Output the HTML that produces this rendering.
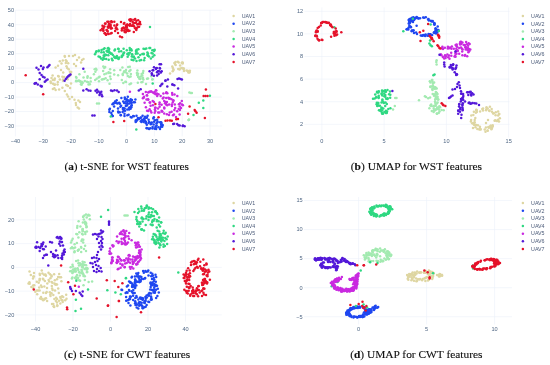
<!DOCTYPE html>
<html><head><meta charset="utf-8"><style>
html,body{margin:0;padding:0;background:#fff;width:550px;height:365px;overflow:hidden}
svg{display:block}
.g{stroke:#ebf0f8;stroke-width:0.6}
.t{font-family:"Liberation Sans",sans-serif;font-size:5.6px;fill:#506784}
.lg{font-family:"Liberation Sans",sans-serif;font-size:5.3px;fill:#4a5a78}
.c{font-family:"Liberation Serif",serif;font-size:11.2px;fill:#111;stroke:#111;stroke-width:0.12px}
</style></head><body>
<svg width="550" height="365" viewBox="0 0 550 365">
<rect width="550" height="365" fill="#fff"/>
<line x1="15.40" y1="10.2" x2="15.40" y2="136.3" class="g"/><line x1="43.20" y1="10.2" x2="43.20" y2="136.3" class="g"/><line x1="71.00" y1="10.2" x2="71.00" y2="136.3" class="g"/><line x1="98.80" y1="10.2" x2="98.80" y2="136.3" class="g"/><line x1="126.60" y1="10.2" x2="126.60" y2="136.3" class="g"/><line x1="154.40" y1="10.2" x2="154.40" y2="136.3" class="g"/><line x1="182.20" y1="10.2" x2="182.20" y2="136.3" class="g"/><line x1="210.00" y1="10.2" x2="210.00" y2="136.3" class="g"/><line x1="15.3" y1="126.01" x2="222" y2="126.01" class="g"/><line x1="15.3" y1="111.54" x2="222" y2="111.54" class="g"/><line x1="15.3" y1="97.07" x2="222" y2="97.07" class="g"/><line x1="15.3" y1="82.60" x2="222" y2="82.60" class="g"/><line x1="15.3" y1="68.13" x2="222" y2="68.13" class="g"/><line x1="15.3" y1="53.66" x2="222" y2="53.66" class="g"/><line x1="15.3" y1="39.19" x2="222" y2="39.19" class="g"/><line x1="15.3" y1="24.72" x2="222" y2="24.72" class="g"/><line x1="15.3" y1="10.25" x2="222" y2="10.25" class="g"/><line x1="321.90" y1="7.5" x2="321.90" y2="137.5" class="g"/><line x1="384.15" y1="7.5" x2="384.15" y2="137.5" class="g"/><line x1="446.40" y1="7.5" x2="446.40" y2="137.5" class="g"/><line x1="508.65" y1="7.5" x2="508.65" y2="137.5" class="g"/><line x1="304.5" y1="124.30" x2="509.5" y2="124.30" class="g"/><line x1="304.5" y1="101.70" x2="509.5" y2="101.70" class="g"/><line x1="304.5" y1="79.10" x2="509.5" y2="79.10" class="g"/><line x1="304.5" y1="56.50" x2="509.5" y2="56.50" class="g"/><line x1="304.5" y1="33.90" x2="509.5" y2="33.90" class="g"/><line x1="304.5" y1="11.30" x2="509.5" y2="11.30" class="g"/><line x1="35.50" y1="197" x2="35.50" y2="321.5" class="g"/><line x1="73.00" y1="197" x2="73.00" y2="321.5" class="g"/><line x1="110.50" y1="197" x2="110.50" y2="321.5" class="g"/><line x1="148.00" y1="197" x2="148.00" y2="321.5" class="g"/><line x1="185.50" y1="197" x2="185.50" y2="321.5" class="g"/><line x1="15.6" y1="314.90" x2="221.7" y2="314.90" class="g"/><line x1="15.6" y1="291.15" x2="221.7" y2="291.15" class="g"/><line x1="15.6" y1="267.40" x2="221.7" y2="267.40" class="g"/><line x1="15.6" y1="243.65" x2="221.7" y2="243.65" class="g"/><line x1="15.6" y1="219.90" x2="221.7" y2="219.90" class="g"/><line x1="358.60" y1="197" x2="358.60" y2="324.5" class="g"/><line x1="426.60" y1="197" x2="426.60" y2="324.5" class="g"/><line x1="494.60" y1="197" x2="494.60" y2="324.5" class="g"/><line x1="304" y1="316.75" x2="512" y2="316.75" class="g"/><line x1="304" y1="287.70" x2="512" y2="287.70" class="g"/><line x1="304" y1="258.65" x2="512" y2="258.65" class="g"/><line x1="304" y1="229.60" x2="512" y2="229.60" class="g"/><line x1="304" y1="200.55" x2="512" y2="200.55" class="g"/><text x="15.40" y="143.00" text-anchor="middle" class="t">−40</text><text x="43.20" y="143.00" text-anchor="middle" class="t">−30</text><text x="71.00" y="143.00" text-anchor="middle" class="t">−20</text><text x="98.80" y="143.00" text-anchor="middle" class="t">−10</text><text x="126.60" y="143.00" text-anchor="middle" class="t">0</text><text x="154.40" y="143.00" text-anchor="middle" class="t">10</text><text x="182.20" y="143.00" text-anchor="middle" class="t">20</text><text x="210.00" y="143.00" text-anchor="middle" class="t">30</text><text x="14.00" y="127.81" text-anchor="end" class="t">−30</text><text x="14.00" y="113.34" text-anchor="end" class="t">−20</text><text x="14.00" y="98.87" text-anchor="end" class="t">−10</text><text x="14.00" y="84.40" text-anchor="end" class="t">0</text><text x="14.00" y="69.93" text-anchor="end" class="t">10</text><text x="14.00" y="55.46" text-anchor="end" class="t">20</text><text x="14.00" y="40.99" text-anchor="end" class="t">30</text><text x="14.00" y="26.52" text-anchor="end" class="t">40</text><text x="14.00" y="12.05" text-anchor="end" class="t">50</text><circle cx="233.6" cy="16.00" r="1.25" fill="#ded6a2"/><text x="241.80" y="17.75" class="lg">UAV1</text><circle cx="233.6" cy="23.65" r="1.25" fill="#1f47f0"/><text x="241.80" y="25.40" class="lg">UAV2</text><circle cx="233.6" cy="31.30" r="1.25" fill="#a3eab1"/><text x="241.80" y="33.05" class="lg">UAV3</text><circle cx="233.6" cy="38.95" r="1.25" fill="#2fd882"/><text x="241.80" y="40.70" class="lg">UAV4</text><circle cx="233.6" cy="46.60" r="1.25" fill="#c92ae0"/><text x="241.80" y="48.35" class="lg">UAV5</text><circle cx="233.6" cy="54.25" r="1.25" fill="#5318d8"/><text x="241.80" y="56.00" class="lg">UAV6</text><circle cx="233.6" cy="61.90" r="1.25" fill="#e5122a"/><text x="241.80" y="63.65" class="lg">UAV7</text><text x="321.90" y="143.00" text-anchor="middle" class="t">0</text><text x="384.15" y="143.00" text-anchor="middle" class="t">5</text><text x="446.40" y="143.00" text-anchor="middle" class="t">10</text><text x="508.65" y="143.00" text-anchor="middle" class="t">15</text><text x="303.20" y="126.10" text-anchor="end" class="t">2</text><text x="303.20" y="103.50" text-anchor="end" class="t">4</text><text x="303.20" y="80.90" text-anchor="end" class="t">6</text><text x="303.20" y="58.30" text-anchor="end" class="t">8</text><text x="303.20" y="35.70" text-anchor="end" class="t">10</text><text x="303.20" y="13.10" text-anchor="end" class="t">12</text><circle cx="522.9" cy="16.10" r="1.25" fill="#ded6a2"/><text x="531.10" y="17.85" class="lg">UAV1</text><circle cx="522.9" cy="23.75" r="1.25" fill="#1f47f0"/><text x="531.10" y="25.50" class="lg">UAV2</text><circle cx="522.9" cy="31.40" r="1.25" fill="#a3eab1"/><text x="531.10" y="33.15" class="lg">UAV3</text><circle cx="522.9" cy="39.05" r="1.25" fill="#2fd882"/><text x="531.10" y="40.80" class="lg">UAV4</text><circle cx="522.9" cy="46.70" r="1.25" fill="#c92ae0"/><text x="531.10" y="48.45" class="lg">UAV5</text><circle cx="522.9" cy="54.35" r="1.25" fill="#5318d8"/><text x="531.10" y="56.10" class="lg">UAV6</text><circle cx="522.9" cy="62.00" r="1.25" fill="#e5122a"/><text x="531.10" y="63.75" class="lg">UAV7</text><text x="35.50" y="331.00" text-anchor="middle" class="t">−40</text><text x="73.00" y="331.00" text-anchor="middle" class="t">−20</text><text x="110.50" y="331.00" text-anchor="middle" class="t">0</text><text x="148.00" y="331.00" text-anchor="middle" class="t">20</text><text x="185.50" y="331.00" text-anchor="middle" class="t">40</text><text x="14.30" y="316.70" text-anchor="end" class="t">−20</text><text x="14.30" y="292.95" text-anchor="end" class="t">−10</text><text x="14.30" y="269.20" text-anchor="end" class="t">0</text><text x="14.30" y="245.45" text-anchor="end" class="t">10</text><text x="14.30" y="221.70" text-anchor="end" class="t">20</text><circle cx="233.6" cy="203.10" r="1.25" fill="#ded6a2"/><text x="241.80" y="204.85" class="lg">UAV1</text><circle cx="233.6" cy="210.75" r="1.25" fill="#1f47f0"/><text x="241.80" y="212.50" class="lg">UAV2</text><circle cx="233.6" cy="218.40" r="1.25" fill="#a3eab1"/><text x="241.80" y="220.15" class="lg">UAV3</text><circle cx="233.6" cy="226.05" r="1.25" fill="#2fd882"/><text x="241.80" y="227.80" class="lg">UAV4</text><circle cx="233.6" cy="233.70" r="1.25" fill="#c92ae0"/><text x="241.80" y="235.45" class="lg">UAV5</text><circle cx="233.6" cy="241.35" r="1.25" fill="#5318d8"/><text x="241.80" y="243.10" class="lg">UAV6</text><circle cx="233.6" cy="249.00" r="1.25" fill="#e5122a"/><text x="241.80" y="250.75" class="lg">UAV7</text><text x="358.60" y="331.00" text-anchor="middle" class="t">0</text><text x="426.60" y="331.00" text-anchor="middle" class="t">5</text><text x="494.60" y="331.00" text-anchor="middle" class="t">10</text><text x="302.70" y="318.55" text-anchor="end" class="t">−5</text><text x="302.70" y="289.50" text-anchor="end" class="t">0</text><text x="302.70" y="260.45" text-anchor="end" class="t">5</text><text x="302.70" y="231.40" text-anchor="end" class="t">10</text><text x="302.70" y="202.35" text-anchor="end" class="t">15</text><circle cx="522.9" cy="203.10" r="1.25" fill="#ded6a2"/><text x="531.10" y="204.85" class="lg">UAV1</text><circle cx="522.9" cy="210.75" r="1.25" fill="#1f47f0"/><text x="531.10" y="212.50" class="lg">UAV2</text><circle cx="522.9" cy="218.40" r="1.25" fill="#a3eab1"/><text x="531.10" y="220.15" class="lg">UAV3</text><circle cx="522.9" cy="226.05" r="1.25" fill="#2fd882"/><text x="531.10" y="227.80" class="lg">UAV4</text><circle cx="522.9" cy="233.70" r="1.25" fill="#c92ae0"/><text x="531.10" y="235.45" class="lg">UAV5</text><circle cx="522.9" cy="241.35" r="1.25" fill="#5318d8"/><text x="531.10" y="243.10" class="lg">UAV6</text><circle cx="522.9" cy="249.00" r="1.25" fill="#e5122a"/><text x="531.10" y="250.75" class="lg">UAV7</text><g fill="#ded6a2"><circle cx="64.8" cy="91.1" r="1.25"/><circle cx="67.6" cy="79.2" r="1.25"/><circle cx="54.5" cy="80.0" r="1.25"/><circle cx="64.2" cy="77.0" r="1.25"/><circle cx="54.3" cy="88.2" r="1.25"/><circle cx="66.5" cy="66.2" r="1.25"/><circle cx="68.0" cy="85.9" r="1.25"/><circle cx="52.9" cy="88.9" r="1.25"/><circle cx="50.6" cy="81.5" r="1.25"/><circle cx="69.2" cy="76.3" r="1.25"/><circle cx="53.0" cy="83.8" r="1.25"/><circle cx="57.6" cy="84.4" r="1.25"/><circle cx="66.2" cy="85.0" r="1.25"/><circle cx="70.1" cy="88.0" r="1.25"/><circle cx="62.4" cy="87.7" r="1.25"/><circle cx="70.8" cy="74.4" r="1.25"/><circle cx="50.9" cy="82.9" r="1.25"/><circle cx="58.0" cy="65.7" r="1.25"/><circle cx="61.5" cy="63.4" r="1.25"/><circle cx="52.9" cy="79.9" r="1.25"/><circle cx="65.8" cy="60.3" r="1.25"/><circle cx="62.4" cy="76.7" r="1.25"/><circle cx="54.4" cy="84.7" r="1.25"/><circle cx="55.6" cy="90.0" r="1.25"/><circle cx="71.2" cy="72.0" r="1.25"/><circle cx="63.0" cy="79.5" r="1.25"/><circle cx="51.5" cy="77.9" r="1.25"/><circle cx="58.8" cy="76.6" r="1.25"/><circle cx="63.2" cy="72.6" r="1.25"/><circle cx="55.6" cy="67.4" r="1.25"/><circle cx="64.7" cy="56.1" r="1.25"/><circle cx="59.8" cy="61.3" r="1.25"/><circle cx="58.1" cy="76.1" r="1.25"/><circle cx="54.8" cy="78.5" r="1.25"/><circle cx="69.0" cy="55.9" r="1.25"/><circle cx="61.0" cy="70.0" r="1.25"/><circle cx="69.9" cy="71.7" r="1.25"/><circle cx="68.7" cy="69.3" r="1.25"/><circle cx="67.2" cy="68.1" r="1.25"/><circle cx="59.8" cy="79.6" r="1.25"/><circle cx="62.9" cy="80.7" r="1.25"/><circle cx="55.0" cy="84.4" r="1.25"/><circle cx="52.6" cy="75.5" r="1.25"/><circle cx="65.8" cy="62.9" r="1.25"/><circle cx="57.8" cy="82.1" r="1.25"/><circle cx="59.1" cy="89.5" r="1.25"/><circle cx="62.8" cy="60.5" r="1.25"/><circle cx="68.2" cy="63.3" r="1.25"/><circle cx="66.8" cy="85.2" r="1.25"/><circle cx="66.6" cy="61.2" r="1.25"/><circle cx="71.0" cy="83.4" r="1.25"/><circle cx="64.9" cy="56.8" r="1.25"/><circle cx="73.0" cy="56.0" r="1.25"/><circle cx="75.0" cy="55.0" r="1.25"/><circle cx="79.0" cy="57.5" r="1.25"/><circle cx="82.0" cy="60.0" r="1.25"/><circle cx="81.0" cy="62.5" r="1.25"/><circle cx="83.5" cy="59.0" r="1.25"/><circle cx="77.0" cy="60.0" r="1.25"/><circle cx="74.0" cy="64.0" r="1.25"/><circle cx="76.0" cy="66.0" r="1.25"/><circle cx="66.9" cy="94.6" r="1.25"/><circle cx="69.5" cy="99.1" r="1.25"/><circle cx="74.5" cy="99.7" r="1.25"/><circle cx="75.8" cy="102.9" r="1.25"/><circle cx="78.4" cy="100.4" r="1.25"/><circle cx="77.7" cy="107.4" r="1.25"/><circle cx="79.0" cy="108.6" r="1.25"/><circle cx="72.0" cy="97.0" r="1.25"/><circle cx="76.0" cy="105.0" r="1.25"/><circle cx="68.0" cy="96.5" r="1.25"/><circle cx="80.0" cy="102.0" r="1.25"/><circle cx="182.6" cy="62.7" r="1.25"/><circle cx="175.6" cy="65.1" r="1.25"/><circle cx="178.7" cy="62.5" r="1.25"/><circle cx="183.1" cy="68.5" r="1.25"/><circle cx="174.8" cy="63.1" r="1.25"/><circle cx="178.2" cy="69.1" r="1.25"/><circle cx="174.5" cy="62.9" r="1.25"/><circle cx="179.6" cy="69.6" r="1.25"/><circle cx="172.9" cy="67.9" r="1.25"/><circle cx="181.8" cy="62.9" r="1.25"/><circle cx="175.6" cy="62.0" r="1.25"/><circle cx="181.9" cy="62.7" r="1.25"/><circle cx="177.8" cy="61.8" r="1.25"/><circle cx="180.1" cy="65.4" r="1.25"/><circle cx="181.8" cy="68.0" r="1.25"/><circle cx="180.4" cy="68.4" r="1.25"/><circle cx="175.0" cy="63.9" r="1.25"/><circle cx="172.3" cy="66.6" r="1.25"/><circle cx="182.7" cy="63.5" r="1.25"/><circle cx="182.7" cy="62.8" r="1.25"/><circle cx="173.2" cy="70.6" r="1.25"/><circle cx="172.7" cy="71.2" r="1.25"/><circle cx="173.5" cy="69.5" r="1.25"/><circle cx="170.0" cy="73.4" r="1.25"/><circle cx="186.5" cy="70.5" r="1.25"/><circle cx="183.8" cy="68.6" r="1.25"/><circle cx="183.6" cy="68.9" r="1.25"/><circle cx="187.8" cy="71.0" r="1.25"/><circle cx="187.8" cy="71.1" r="1.25"/><circle cx="184.0" cy="70.9" r="1.25"/><circle cx="189.6" cy="72.0" r="1.25"/><circle cx="188.4" cy="72.5" r="1.25"/><circle cx="189.9" cy="70.7" r="1.25"/><circle cx="189.4" cy="72.4" r="1.25"/><circle cx="496.5" cy="121.1" r="1.25"/><circle cx="498.9" cy="114.0" r="1.25"/><circle cx="473.2" cy="123.6" r="1.25"/><circle cx="485.9" cy="127.6" r="1.25"/><circle cx="495.8" cy="112.2" r="1.25"/><circle cx="474.2" cy="122.8" r="1.25"/><circle cx="491.1" cy="127.8" r="1.25"/><circle cx="487.7" cy="130.8" r="1.25"/><circle cx="474.0" cy="124.8" r="1.25"/><circle cx="476.8" cy="112.0" r="1.25"/><circle cx="479.3" cy="129.5" r="1.25"/><circle cx="475.5" cy="127.2" r="1.25"/><circle cx="492.7" cy="126.5" r="1.25"/><circle cx="492.7" cy="125.2" r="1.25"/><circle cx="490.7" cy="126.7" r="1.25"/><circle cx="484.7" cy="129.4" r="1.25"/><circle cx="498.1" cy="111.5" r="1.25"/><circle cx="489.5" cy="127.2" r="1.25"/><circle cx="489.2" cy="110.5" r="1.25"/><circle cx="479.9" cy="126.7" r="1.25"/><circle cx="492.0" cy="128.0" r="1.25"/><circle cx="495.6" cy="115.2" r="1.25"/><circle cx="474.8" cy="124.9" r="1.25"/><circle cx="488.8" cy="127.8" r="1.25"/><circle cx="491.4" cy="129.2" r="1.25"/><circle cx="498.2" cy="119.7" r="1.25"/><circle cx="473.9" cy="111.7" r="1.25"/><circle cx="482.3" cy="108.9" r="1.25"/><circle cx="488.3" cy="127.0" r="1.25"/><circle cx="486.5" cy="107.2" r="1.25"/><circle cx="493.8" cy="113.3" r="1.25"/><circle cx="473.3" cy="115.0" r="1.25"/><circle cx="490.9" cy="125.9" r="1.25"/><circle cx="476.3" cy="109.8" r="1.25"/><circle cx="487.5" cy="130.4" r="1.25"/><circle cx="474.0" cy="123.6" r="1.25"/><circle cx="471.3" cy="115.5" r="1.25"/><circle cx="471.1" cy="120.0" r="1.25"/><circle cx="497.9" cy="121.0" r="1.25"/><circle cx="483.0" cy="110.5" r="1.25"/><circle cx="485.5" cy="131.7" r="1.25"/><circle cx="475.3" cy="118.1" r="1.25"/><circle cx="475.8" cy="112.8" r="1.25"/><circle cx="480.3" cy="129.0" r="1.25"/><circle cx="480.1" cy="111.5" r="1.25"/><circle cx="470.9" cy="121.4" r="1.25"/><circle cx="473.0" cy="127.9" r="1.25"/><circle cx="472.2" cy="123.3" r="1.25"/><circle cx="489.5" cy="111.1" r="1.25"/><circle cx="476.1" cy="125.1" r="1.25"/><circle cx="492.0" cy="111.8" r="1.25"/><circle cx="490.8" cy="125.8" r="1.25"/><circle cx="499.0" cy="121.4" r="1.25"/><circle cx="479.8" cy="128.5" r="1.25"/><circle cx="477.3" cy="129.0" r="1.25"/><circle cx="480.7" cy="129.6" r="1.25"/><circle cx="474.7" cy="120.1" r="1.25"/><circle cx="491.6" cy="109.1" r="1.25"/><circle cx="494.6" cy="120.8" r="1.25"/><circle cx="486.3" cy="109.2" r="1.25"/><circle cx="489.9" cy="106.8" r="1.25"/><circle cx="498.2" cy="115.5" r="1.25"/><circle cx="476.6" cy="110.5" r="1.25"/><circle cx="499.3" cy="113.9" r="1.25"/><circle cx="490.5" cy="126.0" r="1.25"/><circle cx="486.1" cy="110.3" r="1.25"/><circle cx="483.1" cy="108.5" r="1.25"/><circle cx="487.7" cy="108.4" r="1.25"/><circle cx="477.9" cy="125.3" r="1.25"/><circle cx="474.7" cy="122.2" r="1.25"/><circle cx="492.0" cy="126.3" r="1.25"/><circle cx="480.0" cy="128.8" r="1.25"/><circle cx="476.4" cy="110.1" r="1.25"/><circle cx="499.8" cy="118.3" r="1.25"/><circle cx="495.3" cy="120.2" r="1.25"/><circle cx="493.1" cy="113.4" r="1.25"/><circle cx="497.6" cy="120.5" r="1.25"/><circle cx="491.7" cy="128.2" r="1.25"/><circle cx="488.0" cy="120.0" r="1.25"/><circle cx="486.0" cy="123.0" r="1.25"/><circle cx="48.5" cy="272.8" r="1.25"/><circle cx="29.5" cy="271.6" r="1.25"/><circle cx="37.2" cy="294.2" r="1.25"/><circle cx="60.7" cy="298.1" r="1.25"/><circle cx="41.0" cy="297.1" r="1.25"/><circle cx="57.0" cy="284.6" r="1.25"/><circle cx="57.0" cy="299.1" r="1.25"/><circle cx="54.2" cy="307.1" r="1.25"/><circle cx="53.3" cy="295.0" r="1.25"/><circle cx="61.0" cy="277.2" r="1.25"/><circle cx="44.3" cy="299.5" r="1.25"/><circle cx="62.7" cy="302.0" r="1.25"/><circle cx="39.6" cy="290.6" r="1.25"/><circle cx="55.7" cy="284.3" r="1.25"/><circle cx="54.4" cy="299.0" r="1.25"/><circle cx="52.0" cy="304.0" r="1.25"/><circle cx="57.2" cy="305.3" r="1.25"/><circle cx="39.7" cy="273.7" r="1.25"/><circle cx="38.2" cy="290.6" r="1.25"/><circle cx="52.6" cy="289.9" r="1.25"/><circle cx="38.7" cy="282.7" r="1.25"/><circle cx="36.8" cy="281.8" r="1.25"/><circle cx="33.1" cy="285.5" r="1.25"/><circle cx="47.3" cy="283.6" r="1.25"/><circle cx="34.0" cy="273.0" r="1.25"/><circle cx="28.5" cy="283.4" r="1.25"/><circle cx="51.8" cy="286.0" r="1.25"/><circle cx="36.8" cy="290.4" r="1.25"/><circle cx="51.5" cy="293.3" r="1.25"/><circle cx="41.8" cy="287.1" r="1.25"/><circle cx="57.0" cy="302.5" r="1.25"/><circle cx="41.8" cy="270.5" r="1.25"/><circle cx="54.5" cy="283.5" r="1.25"/><circle cx="39.2" cy="287.5" r="1.25"/><circle cx="29.4" cy="282.2" r="1.25"/><circle cx="57.0" cy="279.3" r="1.25"/><circle cx="58.2" cy="288.5" r="1.25"/><circle cx="52.1" cy="288.6" r="1.25"/><circle cx="59.0" cy="300.7" r="1.25"/><circle cx="39.5" cy="280.5" r="1.25"/><circle cx="54.8" cy="280.2" r="1.25"/><circle cx="31.4" cy="287.0" r="1.25"/><circle cx="43.3" cy="292.7" r="1.25"/><circle cx="66.2" cy="294.8" r="1.25"/><circle cx="45.9" cy="275.7" r="1.25"/><circle cx="62.4" cy="300.3" r="1.25"/><circle cx="40.0" cy="278.9" r="1.25"/><circle cx="55.0" cy="290.5" r="1.25"/><circle cx="35.3" cy="291.7" r="1.25"/><circle cx="43.2" cy="300.2" r="1.25"/><circle cx="62.1" cy="296.3" r="1.25"/><circle cx="58.1" cy="277.1" r="1.25"/><circle cx="51.6" cy="276.4" r="1.25"/><circle cx="41.8" cy="298.7" r="1.25"/><circle cx="50.0" cy="274.3" r="1.25"/><circle cx="55.8" cy="284.5" r="1.25"/><circle cx="59.2" cy="274.1" r="1.25"/><circle cx="33.3" cy="288.1" r="1.25"/><circle cx="51.4" cy="275.4" r="1.25"/><circle cx="60.3" cy="296.9" r="1.25"/><circle cx="49.8" cy="292.2" r="1.25"/><circle cx="48.6" cy="280.1" r="1.25"/><circle cx="45.4" cy="274.4" r="1.25"/><circle cx="33.9" cy="276.4" r="1.25"/><circle cx="46.0" cy="293.1" r="1.25"/><circle cx="39.9" cy="274.9" r="1.25"/><circle cx="61.5" cy="299.9" r="1.25"/><circle cx="42.9" cy="278.8" r="1.25"/><circle cx="66.5" cy="298.8" r="1.25"/><circle cx="60.3" cy="303.5" r="1.25"/><circle cx="57.3" cy="305.9" r="1.25"/><circle cx="33.4" cy="276.6" r="1.25"/><circle cx="46.7" cy="291.9" r="1.25"/><circle cx="41.0" cy="285.5" r="1.25"/><circle cx="59.5" cy="277.2" r="1.25"/><circle cx="53.8" cy="306.6" r="1.25"/><circle cx="41.4" cy="299.0" r="1.25"/><circle cx="44.6" cy="298.8" r="1.25"/><circle cx="33.0" cy="278.6" r="1.25"/><circle cx="63.2" cy="297.1" r="1.25"/><circle cx="55.1" cy="284.3" r="1.25"/><circle cx="47.0" cy="287.9" r="1.25"/><circle cx="42.4" cy="273.5" r="1.25"/><circle cx="29.6" cy="283.7" r="1.25"/><circle cx="53.8" cy="306.3" r="1.25"/><circle cx="56.1" cy="297.7" r="1.25"/><circle cx="61.4" cy="281.3" r="1.25"/><circle cx="30.8" cy="275.1" r="1.25"/><circle cx="50.3" cy="294.4" r="1.25"/><circle cx="51.7" cy="282.1" r="1.25"/><circle cx="53.3" cy="303.9" r="1.25"/><circle cx="44.1" cy="274.7" r="1.25"/><circle cx="54.1" cy="274.3" r="1.25"/><circle cx="39.6" cy="278.9" r="1.25"/><circle cx="43.4" cy="279.5" r="1.25"/><circle cx="50.5" cy="295.9" r="1.25"/><circle cx="55.9" cy="301.1" r="1.25"/><circle cx="47.1" cy="301.1" r="1.25"/><circle cx="58.8" cy="292.9" r="1.25"/><circle cx="65.2" cy="300.2" r="1.25"/><circle cx="52.4" cy="282.8" r="1.25"/><circle cx="49.2" cy="281.4" r="1.25"/><circle cx="34.2" cy="285.2" r="1.25"/><circle cx="44.3" cy="286.5" r="1.25"/><circle cx="50.4" cy="278.2" r="1.25"/><circle cx="40.1" cy="298.6" r="1.25"/><circle cx="46.0" cy="298.3" r="1.25"/><circle cx="44.9" cy="281.1" r="1.25"/><circle cx="425.9" cy="272.5" r="1.25"/><circle cx="409.1" cy="276.6" r="1.25"/><circle cx="407.1" cy="275.1" r="1.25"/><circle cx="430.5" cy="271.5" r="1.25"/><circle cx="425.2" cy="278.0" r="1.25"/><circle cx="424.2" cy="272.8" r="1.25"/><circle cx="409.2" cy="276.3" r="1.25"/><circle cx="419.6" cy="272.7" r="1.25"/><circle cx="419.3" cy="279.4" r="1.25"/><circle cx="430.8" cy="276.3" r="1.25"/><circle cx="407.8" cy="275.7" r="1.25"/><circle cx="428.8" cy="279.7" r="1.25"/><circle cx="416.6" cy="273.6" r="1.25"/><circle cx="415.1" cy="274.9" r="1.25"/><circle cx="411.4" cy="280.2" r="1.25"/><circle cx="415.2" cy="273.0" r="1.25"/><circle cx="426.3" cy="277.6" r="1.25"/><circle cx="418.0" cy="279.2" r="1.25"/><circle cx="421.0" cy="272.4" r="1.25"/><circle cx="416.4" cy="281.2" r="1.25"/><circle cx="410.2" cy="274.4" r="1.25"/><circle cx="411.1" cy="274.2" r="1.25"/><circle cx="424.3" cy="278.5" r="1.25"/><circle cx="420.1" cy="279.0" r="1.25"/><circle cx="430.6" cy="273.3" r="1.25"/><circle cx="420.7" cy="272.2" r="1.25"/><circle cx="433.5" cy="273.0" r="1.25"/><circle cx="425.4" cy="280.9" r="1.25"/><circle cx="425.0" cy="272.8" r="1.25"/><circle cx="425.3" cy="271.2" r="1.25"/><circle cx="432.6" cy="277.8" r="1.25"/><circle cx="408.3" cy="277.5" r="1.25"/><circle cx="427.9" cy="274.0" r="1.25"/><circle cx="413.6" cy="275.2" r="1.25"/><circle cx="422.7" cy="278.9" r="1.25"/><circle cx="412.3" cy="278.9" r="1.25"/><circle cx="433.1" cy="275.9" r="1.25"/><circle cx="428.0" cy="280.4" r="1.25"/><circle cx="417.1" cy="271.5" r="1.25"/><circle cx="417.0" cy="281.0" r="1.25"/><circle cx="424.9" cy="272.6" r="1.25"/><circle cx="422.1" cy="280.3" r="1.25"/><circle cx="433.8" cy="273.4" r="1.25"/><circle cx="429.4" cy="275.4" r="1.25"/><circle cx="414.7" cy="273.6" r="1.25"/><circle cx="432.3" cy="271.9" r="1.25"/><circle cx="431.0" cy="276.5" r="1.25"/><circle cx="414.0" cy="280.8" r="1.25"/><circle cx="432.2" cy="278.9" r="1.25"/><circle cx="425.7" cy="270.9" r="1.25"/><circle cx="423.8" cy="272.5" r="1.25"/><circle cx="410.0" cy="275.3" r="1.25"/><circle cx="412.2" cy="278.6" r="1.25"/><circle cx="411.5" cy="277.3" r="1.25"/><circle cx="413.7" cy="276.4" r="1.25"/><circle cx="407.7" cy="278.8" r="1.25"/><circle cx="430.7" cy="273.6" r="1.25"/><circle cx="428.4" cy="274.2" r="1.25"/><circle cx="419.2" cy="272.4" r="1.25"/><circle cx="429.4" cy="272.2" r="1.25"/><circle cx="414.1" cy="277.3" r="1.25"/><circle cx="414.4" cy="274.7" r="1.25"/><circle cx="426.9" cy="277.3" r="1.25"/><circle cx="411.7" cy="274.0" r="1.25"/><circle cx="415.0" cy="274.7" r="1.25"/><circle cx="411.4" cy="274.0" r="1.25"/><circle cx="412.6" cy="272.5" r="1.25"/><circle cx="412.7" cy="275.3" r="1.25"/><circle cx="408.3" cy="279.8" r="1.25"/><circle cx="414.7" cy="272.5" r="1.25"/><circle cx="428.9" cy="270.6" r="1.25"/><circle cx="415.2" cy="273.4" r="1.25"/><circle cx="416.2" cy="278.6" r="1.25"/><circle cx="415.1" cy="274.2" r="1.25"/><circle cx="409.2" cy="273.9" r="1.25"/><circle cx="437.0" cy="275.1" r="1.25"/><circle cx="440.0" cy="274.3" r="1.25"/><circle cx="439.4" cy="276.5" r="1.25"/><circle cx="442.0" cy="275.1" r="1.25"/><circle cx="438.9" cy="276.3" r="1.25"/><circle cx="439.0" cy="274.9" r="1.25"/><circle cx="440.3" cy="275.9" r="1.25"/><circle cx="439.6" cy="274.0" r="1.25"/><circle cx="441.8" cy="275.1" r="1.25"/><circle cx="442.1" cy="275.7" r="1.25"/></g><g fill="#1f47f0"><circle cx="115.0" cy="101.6" r="1.25"/><circle cx="127.3" cy="109.6" r="1.25"/><circle cx="118.0" cy="108.5" r="1.25"/><circle cx="135.4" cy="99.5" r="1.25"/><circle cx="125.8" cy="103.4" r="1.25"/><circle cx="122.6" cy="112.1" r="1.25"/><circle cx="134.8" cy="102.3" r="1.25"/><circle cx="132.0" cy="100.1" r="1.25"/><circle cx="120.7" cy="114.9" r="1.25"/><circle cx="125.0" cy="110.8" r="1.25"/><circle cx="119.2" cy="102.7" r="1.25"/><circle cx="131.7" cy="105.2" r="1.25"/><circle cx="112.5" cy="104.3" r="1.25"/><circle cx="117.5" cy="103.6" r="1.25"/><circle cx="124.5" cy="113.7" r="1.25"/><circle cx="131.5" cy="103.1" r="1.25"/><circle cx="130.3" cy="101.5" r="1.25"/><circle cx="124.9" cy="99.1" r="1.25"/><circle cx="116.4" cy="103.0" r="1.25"/><circle cx="125.8" cy="106.0" r="1.25"/><circle cx="120.8" cy="115.3" r="1.25"/><circle cx="124.8" cy="97.5" r="1.25"/><circle cx="120.4" cy="106.8" r="1.25"/><circle cx="122.9" cy="109.0" r="1.25"/><circle cx="118.2" cy="111.4" r="1.25"/><circle cx="127.6" cy="100.5" r="1.25"/><circle cx="130.6" cy="108.8" r="1.25"/><circle cx="118.4" cy="112.4" r="1.25"/><circle cx="131.3" cy="107.2" r="1.25"/><circle cx="116.7" cy="100.3" r="1.25"/><circle cx="115.5" cy="102.5" r="1.25"/><circle cx="123.0" cy="108.1" r="1.25"/><circle cx="130.2" cy="107.2" r="1.25"/><circle cx="129.1" cy="109.5" r="1.25"/><circle cx="112.5" cy="116.0" r="1.25"/><circle cx="121.1" cy="105.8" r="1.25"/><circle cx="119.9" cy="103.8" r="1.25"/><circle cx="115.8" cy="102.4" r="1.25"/><circle cx="128.3" cy="100.8" r="1.25"/><circle cx="113.5" cy="103.3" r="1.25"/><circle cx="123.7" cy="110.6" r="1.25"/><circle cx="109.3" cy="109.7" r="1.25"/><circle cx="131.5" cy="105.6" r="1.25"/><circle cx="133.5" cy="102.2" r="1.25"/><circle cx="114.1" cy="106.5" r="1.25"/><circle cx="111.3" cy="113.0" r="1.25"/><circle cx="121.4" cy="97.9" r="1.25"/><circle cx="112.7" cy="116.1" r="1.25"/><circle cx="112.8" cy="111.1" r="1.25"/><circle cx="113.7" cy="103.4" r="1.25"/><circle cx="129.0" cy="107.8" r="1.25"/><circle cx="127.8" cy="96.7" r="1.25"/><circle cx="124.1" cy="108.4" r="1.25"/><circle cx="109.4" cy="111.9" r="1.25"/><circle cx="109.9" cy="108.8" r="1.25"/><circle cx="125.7" cy="101.6" r="1.25"/><circle cx="129.4" cy="103.4" r="1.25"/><circle cx="111.9" cy="114.9" r="1.25"/><circle cx="126.8" cy="99.2" r="1.25"/><circle cx="124.5" cy="108.5" r="1.25"/><circle cx="127.0" cy="105.6" r="1.25"/><circle cx="119.7" cy="112.3" r="1.25"/><circle cx="127.4" cy="103.0" r="1.25"/><circle cx="129.1" cy="100.9" r="1.25"/><circle cx="130.7" cy="99.3" r="1.25"/><circle cx="130.9" cy="102.2" r="1.25"/><circle cx="131.1" cy="102.5" r="1.25"/><circle cx="124.1" cy="103.0" r="1.25"/><circle cx="123.2" cy="101.6" r="1.25"/><circle cx="127.6" cy="104.1" r="1.25"/><circle cx="127.3" cy="100.4" r="1.25"/><circle cx="131.0" cy="101.1" r="1.25"/><circle cx="133.2" cy="116.0" r="1.25"/><circle cx="133.9" cy="116.2" r="1.25"/><circle cx="124.5" cy="115.9" r="1.25"/><circle cx="136.5" cy="115.8" r="1.25"/><circle cx="131.6" cy="117.4" r="1.25"/><circle cx="128.6" cy="114.8" r="1.25"/><circle cx="127.4" cy="115.2" r="1.25"/><circle cx="130.7" cy="117.0" r="1.25"/><circle cx="145.9" cy="121.8" r="1.25"/><circle cx="146.8" cy="117.6" r="1.25"/><circle cx="142.2" cy="120.0" r="1.25"/><circle cx="145.8" cy="122.9" r="1.25"/><circle cx="160.1" cy="122.3" r="1.25"/><circle cx="154.8" cy="128.8" r="1.25"/><circle cx="153.8" cy="117.3" r="1.25"/><circle cx="142.6" cy="115.7" r="1.25"/><circle cx="146.6" cy="128.1" r="1.25"/><circle cx="162.6" cy="125.1" r="1.25"/><circle cx="136.1" cy="121.3" r="1.25"/><circle cx="158.4" cy="127.3" r="1.25"/><circle cx="155.7" cy="126.4" r="1.25"/><circle cx="140.8" cy="121.3" r="1.25"/><circle cx="145.8" cy="122.9" r="1.25"/><circle cx="144.4" cy="120.7" r="1.25"/><circle cx="156.1" cy="128.9" r="1.25"/><circle cx="144.7" cy="118.3" r="1.25"/><circle cx="149.1" cy="122.1" r="1.25"/><circle cx="162.3" cy="125.5" r="1.25"/><circle cx="142.7" cy="119.9" r="1.25"/><circle cx="153.6" cy="124.5" r="1.25"/><circle cx="150.3" cy="128.3" r="1.25"/><circle cx="156.4" cy="123.5" r="1.25"/><circle cx="157.6" cy="121.7" r="1.25"/><circle cx="136.6" cy="120.4" r="1.25"/><circle cx="161.2" cy="122.6" r="1.25"/><circle cx="144.2" cy="118.8" r="1.25"/><circle cx="160.7" cy="126.9" r="1.25"/><circle cx="146.6" cy="117.7" r="1.25"/><circle cx="137.9" cy="118.0" r="1.25"/><circle cx="139.7" cy="118.6" r="1.25"/><circle cx="162.2" cy="126.7" r="1.25"/><circle cx="150.9" cy="123.1" r="1.25"/><circle cx="137.1" cy="119.7" r="1.25"/><circle cx="148.5" cy="123.0" r="1.25"/><circle cx="144.8" cy="120.4" r="1.25"/><circle cx="141.5" cy="121.9" r="1.25"/><circle cx="152.5" cy="128.4" r="1.25"/><circle cx="140.5" cy="117.8" r="1.25"/><circle cx="145.0" cy="116.7" r="1.25"/><circle cx="161.5" cy="124.2" r="1.25"/><circle cx="143.7" cy="122.1" r="1.25"/><circle cx="142.9" cy="120.7" r="1.25"/><circle cx="154.1" cy="121.8" r="1.25"/><circle cx="138.9" cy="119.0" r="1.25"/><circle cx="155.0" cy="120.3" r="1.25"/><circle cx="146.8" cy="128.2" r="1.25"/><circle cx="160.0" cy="128.9" r="1.25"/><circle cx="161.3" cy="124.9" r="1.25"/><circle cx="157.2" cy="122.5" r="1.25"/><circle cx="157.1" cy="119.7" r="1.25"/><circle cx="156.6" cy="125.6" r="1.25"/><circle cx="141.1" cy="117.5" r="1.25"/><circle cx="152.6" cy="127.1" r="1.25"/><circle cx="149.1" cy="129.1" r="1.25"/><circle cx="161.1" cy="122.6" r="1.25"/><circle cx="147.6" cy="115.8" r="1.25"/><circle cx="151.8" cy="122.6" r="1.25"/><circle cx="150.8" cy="124.3" r="1.25"/><circle cx="148.6" cy="119.8" r="1.25"/><circle cx="135.8" cy="120.2" r="1.25"/><circle cx="138.3" cy="119.0" r="1.25"/><circle cx="155.5" cy="127.4" r="1.25"/><circle cx="151.2" cy="123.6" r="1.25"/><circle cx="161.3" cy="124.2" r="1.25"/><circle cx="146.8" cy="124.7" r="1.25"/><circle cx="153.3" cy="118.5" r="1.25"/><circle cx="135.7" cy="122.1" r="1.25"/><circle cx="148.4" cy="128.4" r="1.25"/><circle cx="436.4" cy="31.4" r="1.25"/><circle cx="437.2" cy="32.4" r="1.25"/><circle cx="410.0" cy="22.8" r="1.25"/><circle cx="409.3" cy="25.7" r="1.25"/><circle cx="425.8" cy="17.2" r="1.25"/><circle cx="410.4" cy="18.8" r="1.25"/><circle cx="416.1" cy="32.4" r="1.25"/><circle cx="409.9" cy="21.9" r="1.25"/><circle cx="428.1" cy="19.6" r="1.25"/><circle cx="428.5" cy="19.0" r="1.25"/><circle cx="417.0" cy="33.9" r="1.25"/><circle cx="430.3" cy="34.4" r="1.25"/><circle cx="408.7" cy="23.4" r="1.25"/><circle cx="435.5" cy="29.1" r="1.25"/><circle cx="434.2" cy="24.2" r="1.25"/><circle cx="409.2" cy="21.8" r="1.25"/><circle cx="415.6" cy="18.0" r="1.25"/><circle cx="413.3" cy="19.1" r="1.25"/><circle cx="430.8" cy="20.7" r="1.25"/><circle cx="415.1" cy="17.9" r="1.25"/><circle cx="418.5" cy="18.4" r="1.25"/><circle cx="435.6" cy="28.3" r="1.25"/><circle cx="408.6" cy="20.1" r="1.25"/><circle cx="412.1" cy="17.8" r="1.25"/><circle cx="416.7" cy="17.0" r="1.25"/><circle cx="413.5" cy="30.2" r="1.25"/><circle cx="436.2" cy="30.4" r="1.25"/><circle cx="420.8" cy="35.6" r="1.25"/><circle cx="438.3" cy="30.1" r="1.25"/><circle cx="413.3" cy="30.7" r="1.25"/><circle cx="423.1" cy="17.5" r="1.25"/><circle cx="411.0" cy="26.9" r="1.25"/><circle cx="437.7" cy="26.4" r="1.25"/><circle cx="425.1" cy="35.9" r="1.25"/><circle cx="433.9" cy="32.4" r="1.25"/><circle cx="436.5" cy="29.4" r="1.25"/><circle cx="435.8" cy="30.6" r="1.25"/><circle cx="414.0" cy="32.9" r="1.25"/><circle cx="410.9" cy="18.9" r="1.25"/><circle cx="411.9" cy="21.0" r="1.25"/><circle cx="432.2" cy="34.9" r="1.25"/><circle cx="434.2" cy="22.9" r="1.25"/><circle cx="429.5" cy="34.8" r="1.25"/><circle cx="438.3" cy="30.4" r="1.25"/><circle cx="410.0" cy="20.1" r="1.25"/><circle cx="409.4" cy="19.3" r="1.25"/><circle cx="436.1" cy="33.6" r="1.25"/><circle cx="414.4" cy="19.2" r="1.25"/><circle cx="428.9" cy="20.5" r="1.25"/><circle cx="410.1" cy="26.4" r="1.25"/><circle cx="409.3" cy="23.4" r="1.25"/><circle cx="413.5" cy="18.2" r="1.25"/><circle cx="423.1" cy="35.3" r="1.25"/><circle cx="428.5" cy="34.1" r="1.25"/><circle cx="424.0" cy="35.1" r="1.25"/><circle cx="430.3" cy="34.4" r="1.25"/><circle cx="432.7" cy="21.0" r="1.25"/><circle cx="416.3" cy="18.0" r="1.25"/><circle cx="424.1" cy="17.8" r="1.25"/><circle cx="429.5" cy="34.5" r="1.25"/><circle cx="410.8" cy="21.2" r="1.25"/><circle cx="410.8" cy="19.9" r="1.25"/><circle cx="422.1" cy="35.7" r="1.25"/><circle cx="428.8" cy="35.7" r="1.25"/><circle cx="434.6" cy="23.6" r="1.25"/><circle cx="411.6" cy="20.1" r="1.25"/><circle cx="417.4" cy="17.8" r="1.25"/><circle cx="427.4" cy="35.8" r="1.25"/><circle cx="430.1" cy="34.3" r="1.25"/><circle cx="425.7" cy="34.6" r="1.25"/><circle cx="431.8" cy="34.9" r="1.25"/><circle cx="434.9" cy="33.1" r="1.25"/><circle cx="412.1" cy="30.4" r="1.25"/><circle cx="434.1" cy="32.6" r="1.25"/><circle cx="435.2" cy="31.4" r="1.25"/><circle cx="418.1" cy="18.3" r="1.25"/><circle cx="432.3" cy="21.4" r="1.25"/><circle cx="434.5" cy="24.7" r="1.25"/><circle cx="409.7" cy="21.1" r="1.25"/><circle cx="420.0" cy="18.2" r="1.25"/><circle cx="409.9" cy="20.8" r="1.25"/><circle cx="422.6" cy="35.4" r="1.25"/><circle cx="409.9" cy="19.7" r="1.25"/><circle cx="413.4" cy="17.3" r="1.25"/><circle cx="431.3" cy="21.2" r="1.25"/><circle cx="411.8" cy="30.8" r="1.25"/><circle cx="408.3" cy="29.6" r="1.25"/><circle cx="406.7" cy="29.2" r="1.25"/><circle cx="408.8" cy="27.6" r="1.25"/><circle cx="406.9" cy="29.3" r="1.25"/><circle cx="407.8" cy="28.8" r="1.25"/><circle cx="410.8" cy="27.3" r="1.25"/><circle cx="411.7" cy="31.2" r="1.25"/><circle cx="416.6" cy="25.8" r="1.25"/><circle cx="414.0" cy="20.0" r="1.25"/><circle cx="413.0" cy="22.0" r="1.25"/><circle cx="155.8" cy="281.8" r="1.25"/><circle cx="152.0" cy="278.9" r="1.25"/><circle cx="127.7" cy="300.3" r="1.25"/><circle cx="152.3" cy="273.8" r="1.25"/><circle cx="151.2" cy="283.8" r="1.25"/><circle cx="150.5" cy="283.4" r="1.25"/><circle cx="135.7" cy="281.4" r="1.25"/><circle cx="152.9" cy="275.6" r="1.25"/><circle cx="134.9" cy="286.0" r="1.25"/><circle cx="131.6" cy="291.3" r="1.25"/><circle cx="156.2" cy="277.1" r="1.25"/><circle cx="135.5" cy="281.0" r="1.25"/><circle cx="151.3" cy="276.3" r="1.25"/><circle cx="129.1" cy="281.4" r="1.25"/><circle cx="151.0" cy="293.4" r="1.25"/><circle cx="153.6" cy="292.6" r="1.25"/><circle cx="153.8" cy="277.7" r="1.25"/><circle cx="135.7" cy="303.0" r="1.25"/><circle cx="130.5" cy="282.7" r="1.25"/><circle cx="141.9" cy="305.4" r="1.25"/><circle cx="154.2" cy="287.7" r="1.25"/><circle cx="129.3" cy="290.8" r="1.25"/><circle cx="155.6" cy="284.8" r="1.25"/><circle cx="133.1" cy="295.7" r="1.25"/><circle cx="126.2" cy="300.7" r="1.25"/><circle cx="139.7" cy="281.2" r="1.25"/><circle cx="154.1" cy="284.1" r="1.25"/><circle cx="146.9" cy="297.5" r="1.25"/><circle cx="154.3" cy="285.8" r="1.25"/><circle cx="130.2" cy="282.0" r="1.25"/><circle cx="139.2" cy="305.8" r="1.25"/><circle cx="135.3" cy="298.0" r="1.25"/><circle cx="128.0" cy="285.4" r="1.25"/><circle cx="134.0" cy="286.2" r="1.25"/><circle cx="151.7" cy="289.7" r="1.25"/><circle cx="142.9" cy="298.3" r="1.25"/><circle cx="140.2" cy="276.5" r="1.25"/><circle cx="126.1" cy="297.0" r="1.25"/><circle cx="151.0" cy="296.5" r="1.25"/><circle cx="145.4" cy="297.0" r="1.25"/><circle cx="132.5" cy="292.2" r="1.25"/><circle cx="150.2" cy="289.4" r="1.25"/><circle cx="133.3" cy="290.1" r="1.25"/><circle cx="157.8" cy="288.7" r="1.25"/><circle cx="138.3" cy="308.6" r="1.25"/><circle cx="156.0" cy="289.7" r="1.25"/><circle cx="136.7" cy="307.5" r="1.25"/><circle cx="145.8" cy="298.7" r="1.25"/><circle cx="135.1" cy="279.7" r="1.25"/><circle cx="140.2" cy="280.3" r="1.25"/><circle cx="142.5" cy="307.9" r="1.25"/><circle cx="133.2" cy="300.1" r="1.25"/><circle cx="129.6" cy="298.5" r="1.25"/><circle cx="150.7" cy="272.7" r="1.25"/><circle cx="132.1" cy="286.7" r="1.25"/><circle cx="143.1" cy="271.0" r="1.25"/><circle cx="145.5" cy="301.1" r="1.25"/><circle cx="134.7" cy="293.1" r="1.25"/><circle cx="151.3" cy="299.5" r="1.25"/><circle cx="136.8" cy="276.2" r="1.25"/><circle cx="151.8" cy="275.8" r="1.25"/><circle cx="135.1" cy="303.2" r="1.25"/><circle cx="132.5" cy="285.3" r="1.25"/><circle cx="140.7" cy="298.0" r="1.25"/><circle cx="138.3" cy="273.1" r="1.25"/><circle cx="151.4" cy="283.4" r="1.25"/><circle cx="129.1" cy="299.6" r="1.25"/><circle cx="144.5" cy="302.8" r="1.25"/><circle cx="139.3" cy="282.1" r="1.25"/><circle cx="132.0" cy="276.8" r="1.25"/><circle cx="127.5" cy="292.8" r="1.25"/><circle cx="144.4" cy="307.2" r="1.25"/><circle cx="128.5" cy="302.9" r="1.25"/><circle cx="141.2" cy="299.0" r="1.25"/><circle cx="135.5" cy="305.0" r="1.25"/><circle cx="134.7" cy="282.7" r="1.25"/><circle cx="135.4" cy="281.2" r="1.25"/><circle cx="145.7" cy="306.7" r="1.25"/><circle cx="139.4" cy="282.0" r="1.25"/><circle cx="140.5" cy="280.5" r="1.25"/><circle cx="132.1" cy="283.4" r="1.25"/><circle cx="141.4" cy="276.9" r="1.25"/><circle cx="138.7" cy="303.2" r="1.25"/><circle cx="136.3" cy="304.6" r="1.25"/><circle cx="147.7" cy="271.5" r="1.25"/><circle cx="153.3" cy="290.4" r="1.25"/><circle cx="143.3" cy="278.9" r="1.25"/><circle cx="145.3" cy="300.7" r="1.25"/><circle cx="133.7" cy="285.0" r="1.25"/><circle cx="135.2" cy="279.4" r="1.25"/><circle cx="130.5" cy="282.4" r="1.25"/><circle cx="139.1" cy="302.2" r="1.25"/><circle cx="140.8" cy="305.1" r="1.25"/><circle cx="134.9" cy="276.4" r="1.25"/><circle cx="134.9" cy="287.3" r="1.25"/><circle cx="152.3" cy="285.3" r="1.25"/><circle cx="139.6" cy="304.2" r="1.25"/><circle cx="153.9" cy="281.2" r="1.25"/><circle cx="137.6" cy="281.8" r="1.25"/><circle cx="154.0" cy="289.8" r="1.25"/><circle cx="146.6" cy="295.6" r="1.25"/><circle cx="138.5" cy="277.4" r="1.25"/><circle cx="142.5" cy="306.4" r="1.25"/><circle cx="145.3" cy="270.9" r="1.25"/><circle cx="146.6" cy="305.0" r="1.25"/><circle cx="136.3" cy="285.4" r="1.25"/><circle cx="130.1" cy="299.0" r="1.25"/><circle cx="150.9" cy="299.6" r="1.25"/><circle cx="146.1" cy="271.8" r="1.25"/><circle cx="141.8" cy="297.9" r="1.25"/><circle cx="142.8" cy="299.7" r="1.25"/><circle cx="152.5" cy="282.5" r="1.25"/><circle cx="139.7" cy="280.7" r="1.25"/><circle cx="144.7" cy="303.0" r="1.25"/><circle cx="135.2" cy="301.3" r="1.25"/><circle cx="154.8" cy="292.7" r="1.25"/><circle cx="137.6" cy="274.3" r="1.25"/><circle cx="148.9" cy="295.7" r="1.25"/><circle cx="156.1" cy="298.0" r="1.25"/><circle cx="130.0" cy="296.6" r="1.25"/><circle cx="151.2" cy="285.1" r="1.25"/><circle cx="148.3" cy="270.5" r="1.25"/><circle cx="148.3" cy="301.8" r="1.25"/><circle cx="151.3" cy="298.0" r="1.25"/><circle cx="133.1" cy="293.3" r="1.25"/><circle cx="155.5" cy="274.8" r="1.25"/><circle cx="145.2" cy="278.0" r="1.25"/><circle cx="134.7" cy="286.8" r="1.25"/><circle cx="136.6" cy="297.3" r="1.25"/><circle cx="150.7" cy="286.9" r="1.25"/><circle cx="136.3" cy="273.4" r="1.25"/><circle cx="138.4" cy="299.5" r="1.25"/><circle cx="140.5" cy="281.5" r="1.25"/><circle cx="142.6" cy="299.5" r="1.25"/><circle cx="149.5" cy="292.9" r="1.25"/><circle cx="149.2" cy="301.9" r="1.25"/><circle cx="157.4" cy="295.9" r="1.25"/><circle cx="136.5" cy="281.8" r="1.25"/><circle cx="158.8" cy="292.4" r="1.25"/><circle cx="130.9" cy="296.7" r="1.25"/><circle cx="135.3" cy="283.7" r="1.25"/><circle cx="132.9" cy="285.1" r="1.25"/><circle cx="132.5" cy="287.0" r="1.25"/><circle cx="131.6" cy="277.5" r="1.25"/><circle cx="152.2" cy="284.1" r="1.25"/><circle cx="140.7" cy="297.8" r="1.25"/><circle cx="142.9" cy="308.3" r="1.25"/><circle cx="141.7" cy="278.9" r="1.25"/><circle cx="130.4" cy="305.4" r="1.25"/><circle cx="136.4" cy="295.9" r="1.25"/><circle cx="126.7" cy="292.3" r="1.25"/><circle cx="143.8" cy="272.7" r="1.25"/><circle cx="135.1" cy="287.9" r="1.25"/><circle cx="148.2" cy="295.0" r="1.25"/><circle cx="155.8" cy="285.9" r="1.25"/><circle cx="139.3" cy="279.1" r="1.25"/><circle cx="135.1" cy="281.4" r="1.25"/><circle cx="136.9" cy="304.7" r="1.25"/><circle cx="151.6" cy="299.4" r="1.25"/><circle cx="144.9" cy="278.6" r="1.25"/><circle cx="148.8" cy="293.7" r="1.25"/><circle cx="141.7" cy="302.8" r="1.25"/><circle cx="140.1" cy="302.3" r="1.25"/><circle cx="155.0" cy="291.9" r="1.25"/><circle cx="138.7" cy="276.3" r="1.25"/><circle cx="125.6" cy="293.1" r="1.25"/><circle cx="154.2" cy="279.4" r="1.25"/><circle cx="148.5" cy="275.6" r="1.25"/><circle cx="144.4" cy="302.1" r="1.25"/><circle cx="126.9" cy="286.5" r="1.25"/><circle cx="157.0" cy="285.8" r="1.25"/><circle cx="152.7" cy="290.3" r="1.25"/><circle cx="139.9" cy="297.7" r="1.25"/><circle cx="150.6" cy="282.4" r="1.25"/><circle cx="129.0" cy="290.1" r="1.25"/><circle cx="121.5" cy="289.8" r="1.25"/><circle cx="122.1" cy="290.0" r="1.25"/><circle cx="356.2" cy="307.1" r="1.25"/><circle cx="362.8" cy="317.1" r="1.25"/><circle cx="360.8" cy="316.5" r="1.25"/><circle cx="350.7" cy="315.6" r="1.25"/><circle cx="346.3" cy="314.7" r="1.25"/><circle cx="353.7" cy="307.1" r="1.25"/><circle cx="362.8" cy="307.5" r="1.25"/><circle cx="354.5" cy="308.0" r="1.25"/><circle cx="348.6" cy="313.5" r="1.25"/><circle cx="346.7" cy="313.6" r="1.25"/><circle cx="349.4" cy="314.7" r="1.25"/><circle cx="348.5" cy="310.4" r="1.25"/><circle cx="349.8" cy="316.0" r="1.25"/><circle cx="366.2" cy="309.8" r="1.25"/><circle cx="347.1" cy="312.1" r="1.25"/><circle cx="366.9" cy="309.8" r="1.25"/><circle cx="362.4" cy="316.9" r="1.25"/><circle cx="347.5" cy="310.6" r="1.25"/><circle cx="359.9" cy="307.6" r="1.25"/><circle cx="349.3" cy="309.8" r="1.25"/><circle cx="364.3" cy="316.6" r="1.25"/><circle cx="351.1" cy="309.5" r="1.25"/><circle cx="357.2" cy="307.6" r="1.25"/><circle cx="364.3" cy="307.3" r="1.25"/><circle cx="368.6" cy="311.5" r="1.25"/><circle cx="363.2" cy="306.9" r="1.25"/><circle cx="352.2" cy="309.1" r="1.25"/><circle cx="359.8" cy="307.5" r="1.25"/><circle cx="348.1" cy="313.5" r="1.25"/><circle cx="365.9" cy="312.0" r="1.25"/><circle cx="362.2" cy="316.2" r="1.25"/><circle cx="349.3" cy="310.2" r="1.25"/><circle cx="365.8" cy="311.9" r="1.25"/><circle cx="358.6" cy="316.7" r="1.25"/><circle cx="360.0" cy="317.0" r="1.25"/><circle cx="364.0" cy="307.3" r="1.25"/><circle cx="366.9" cy="314.6" r="1.25"/><circle cx="368.0" cy="311.5" r="1.25"/><circle cx="357.1" cy="317.5" r="1.25"/><circle cx="367.5" cy="314.1" r="1.25"/><circle cx="365.7" cy="311.0" r="1.25"/><circle cx="365.6" cy="313.4" r="1.25"/><circle cx="368.3" cy="311.3" r="1.25"/><circle cx="348.8" cy="312.5" r="1.25"/><circle cx="349.0" cy="313.3" r="1.25"/><circle cx="357.6" cy="317.3" r="1.25"/><circle cx="353.5" cy="317.4" r="1.25"/><circle cx="353.8" cy="316.8" r="1.25"/><circle cx="351.4" cy="316.1" r="1.25"/><circle cx="349.5" cy="313.7" r="1.25"/><circle cx="363.5" cy="314.9" r="1.25"/><circle cx="349.9" cy="314.8" r="1.25"/><circle cx="359.6" cy="316.1" r="1.25"/><circle cx="351.6" cy="308.9" r="1.25"/><circle cx="353.8" cy="308.4" r="1.25"/><circle cx="359.5" cy="306.6" r="1.25"/><circle cx="355.5" cy="307.5" r="1.25"/><circle cx="356.4" cy="306.6" r="1.25"/><circle cx="347.6" cy="311.7" r="1.25"/><circle cx="349.6" cy="316.1" r="1.25"/><circle cx="366.0" cy="312.6" r="1.25"/><circle cx="364.9" cy="309.6" r="1.25"/><circle cx="346.3" cy="312.5" r="1.25"/><circle cx="348.2" cy="311.7" r="1.25"/><circle cx="346.1" cy="313.0" r="1.25"/><circle cx="352.0" cy="308.2" r="1.25"/><circle cx="357.0" cy="306.6" r="1.25"/><circle cx="351.5" cy="316.9" r="1.25"/><circle cx="359.0" cy="306.9" r="1.25"/><circle cx="347.3" cy="314.2" r="1.25"/><circle cx="350.8" cy="309.1" r="1.25"/><circle cx="349.6" cy="310.6" r="1.25"/><circle cx="350.3" cy="308.2" r="1.25"/><circle cx="360.6" cy="316.0" r="1.25"/><circle cx="349.4" cy="315.1" r="1.25"/><circle cx="354.7" cy="307.3" r="1.25"/><circle cx="359.0" cy="316.3" r="1.25"/><circle cx="355.9" cy="307.9" r="1.25"/><circle cx="354.2" cy="307.7" r="1.25"/><circle cx="355.9" cy="316.7" r="1.25"/><circle cx="361.8" cy="316.1" r="1.25"/><circle cx="353.4" cy="307.3" r="1.25"/><circle cx="366.0" cy="309.7" r="1.25"/><circle cx="366.4" cy="311.4" r="1.25"/><circle cx="349.9" cy="310.3" r="1.25"/><circle cx="367.6" cy="313.9" r="1.25"/><circle cx="368.5" cy="309.9" r="1.25"/><circle cx="353.2" cy="308.1" r="1.25"/><circle cx="368.9" cy="312.9" r="1.25"/><circle cx="351.0" cy="308.3" r="1.25"/><circle cx="359.5" cy="316.2" r="1.25"/><circle cx="347.2" cy="314.6" r="1.25"/><circle cx="369.1" cy="311.5" r="1.25"/><circle cx="357.9" cy="307.9" r="1.25"/><circle cx="354.1" cy="316.5" r="1.25"/><circle cx="365.7" cy="314.5" r="1.25"/><circle cx="375.5" cy="308.1" r="1.25"/><circle cx="375.2" cy="308.1" r="1.25"/><circle cx="370.9" cy="311.8" r="1.25"/><circle cx="363.0" cy="314.4" r="1.25"/><circle cx="374.1" cy="309.3" r="1.25"/><circle cx="378.2" cy="307.0" r="1.25"/><circle cx="369.6" cy="309.5" r="1.25"/><circle cx="369.0" cy="309.2" r="1.25"/><circle cx="365.1" cy="312.0" r="1.25"/><circle cx="369.4" cy="311.4" r="1.25"/><circle cx="366.4" cy="311.2" r="1.25"/><circle cx="367.5" cy="313.6" r="1.25"/><circle cx="374.9" cy="307.0" r="1.25"/><circle cx="375.2" cy="307.0" r="1.25"/><circle cx="369.4" cy="311.8" r="1.25"/><circle cx="366.9" cy="310.7" r="1.25"/><circle cx="368.7" cy="311.6" r="1.25"/><circle cx="374.8" cy="306.5" r="1.25"/><circle cx="368.5" cy="311.3" r="1.25"/><circle cx="370.5" cy="310.5" r="1.25"/><circle cx="371.2" cy="312.2" r="1.25"/><circle cx="371.1" cy="309.2" r="1.25"/><circle cx="372.6" cy="307.4" r="1.25"/><circle cx="369.7" cy="312.1" r="1.25"/><circle cx="373.5" cy="308.0" r="1.25"/><circle cx="363.9" cy="312.4" r="1.25"/><circle cx="371.5" cy="310.8" r="1.25"/><circle cx="374.0" cy="309.9" r="1.25"/><circle cx="364.9" cy="313.7" r="1.25"/><circle cx="377.3" cy="307.8" r="1.25"/><circle cx="375.2" cy="306.6" r="1.25"/><circle cx="367.0" cy="310.7" r="1.25"/><circle cx="371.1" cy="310.0" r="1.25"/><circle cx="370.1" cy="312.7" r="1.25"/><circle cx="374.4" cy="307.5" r="1.25"/><circle cx="369.1" cy="311.7" r="1.25"/><circle cx="375.6" cy="305.7" r="1.25"/><circle cx="369.3" cy="310.7" r="1.25"/><circle cx="368.8" cy="313.7" r="1.25"/></g><g fill="#a3eab1"><circle cx="89.9" cy="84.3" r="1.25"/><circle cx="79.4" cy="74.2" r="1.25"/><circle cx="80.7" cy="81.9" r="1.25"/><circle cx="81.0" cy="84.3" r="1.25"/><circle cx="76.5" cy="77.8" r="1.25"/><circle cx="79.5" cy="80.9" r="1.25"/><circle cx="87.0" cy="81.7" r="1.25"/><circle cx="78.7" cy="80.6" r="1.25"/><circle cx="88.3" cy="82.2" r="1.25"/><circle cx="79.8" cy="81.0" r="1.25"/><circle cx="82.2" cy="83.2" r="1.25"/><circle cx="90.7" cy="81.6" r="1.25"/><circle cx="76.1" cy="80.7" r="1.25"/><circle cx="76.1" cy="81.3" r="1.25"/><circle cx="83.5" cy="77.6" r="1.25"/><circle cx="90.6" cy="78.0" r="1.25"/><circle cx="82.6" cy="82.6" r="1.25"/><circle cx="76.0" cy="76.9" r="1.25"/><circle cx="84.8" cy="80.9" r="1.25"/><circle cx="84.7" cy="71.7" r="1.25"/><circle cx="88.5" cy="84.6" r="1.25"/><circle cx="77.1" cy="80.9" r="1.25"/><circle cx="87.4" cy="77.8" r="1.25"/><circle cx="81.7" cy="81.8" r="1.25"/><circle cx="87.6" cy="76.2" r="1.25"/><circle cx="81.6" cy="84.7" r="1.25"/><circle cx="95.9" cy="68.7" r="1.25"/><circle cx="104.3" cy="67.9" r="1.25"/><circle cx="110.7" cy="79.0" r="1.25"/><circle cx="98.6" cy="77.6" r="1.25"/><circle cx="108.6" cy="72.3" r="1.25"/><circle cx="96.5" cy="69.8" r="1.25"/><circle cx="109.5" cy="83.7" r="1.25"/><circle cx="114.2" cy="74.5" r="1.25"/><circle cx="106.4" cy="73.6" r="1.25"/><circle cx="102.8" cy="79.2" r="1.25"/><circle cx="110.1" cy="69.3" r="1.25"/><circle cx="103.1" cy="71.0" r="1.25"/><circle cx="103.3" cy="66.6" r="1.25"/><circle cx="101.8" cy="79.5" r="1.25"/><circle cx="99.6" cy="76.8" r="1.25"/><circle cx="110.4" cy="73.0" r="1.25"/><circle cx="105.2" cy="66.9" r="1.25"/><circle cx="114.2" cy="70.2" r="1.25"/><circle cx="108.8" cy="72.9" r="1.25"/><circle cx="110.1" cy="76.6" r="1.25"/><circle cx="93.9" cy="74.3" r="1.25"/><circle cx="95.2" cy="80.0" r="1.25"/><circle cx="107.6" cy="80.3" r="1.25"/><circle cx="96.7" cy="78.7" r="1.25"/><circle cx="105.6" cy="78.2" r="1.25"/><circle cx="104.0" cy="79.1" r="1.25"/><circle cx="95.4" cy="71.7" r="1.25"/><circle cx="104.4" cy="74.2" r="1.25"/><circle cx="99.0" cy="81.3" r="1.25"/><circle cx="94.7" cy="69.3" r="1.25"/><circle cx="137.8" cy="82.8" r="1.25"/><circle cx="124.2" cy="71.3" r="1.25"/><circle cx="130.6" cy="76.4" r="1.25"/><circle cx="131.0" cy="83.4" r="1.25"/><circle cx="129.3" cy="76.9" r="1.25"/><circle cx="125.3" cy="81.8" r="1.25"/><circle cx="138.1" cy="73.7" r="1.25"/><circle cx="136.9" cy="72.9" r="1.25"/><circle cx="118.1" cy="75.2" r="1.25"/><circle cx="120.3" cy="69.9" r="1.25"/><circle cx="123.3" cy="82.9" r="1.25"/><circle cx="129.6" cy="84.3" r="1.25"/><circle cx="122.7" cy="74.0" r="1.25"/><circle cx="122.4" cy="67.4" r="1.25"/><circle cx="137.2" cy="75.1" r="1.25"/><circle cx="124.0" cy="72.2" r="1.25"/><circle cx="126.0" cy="69.9" r="1.25"/><circle cx="143.0" cy="73.0" r="1.25"/><circle cx="121.8" cy="80.0" r="1.25"/><circle cx="142.3" cy="75.4" r="1.25"/><circle cx="126.0" cy="82.0" r="1.25"/><circle cx="137.4" cy="70.6" r="1.25"/><circle cx="130.5" cy="70.0" r="1.25"/><circle cx="127.8" cy="76.0" r="1.25"/><circle cx="142.7" cy="78.5" r="1.25"/><circle cx="141.6" cy="73.9" r="1.25"/><circle cx="122.8" cy="75.1" r="1.25"/><circle cx="130.9" cy="74.1" r="1.25"/><circle cx="127.2" cy="73.5" r="1.25"/><circle cx="140.3" cy="79.1" r="1.25"/><circle cx="128.2" cy="67.0" r="1.25"/><circle cx="125.7" cy="72.2" r="1.25"/><circle cx="129.3" cy="71.2" r="1.25"/><circle cx="139.5" cy="78.7" r="1.25"/><circle cx="138.6" cy="77.2" r="1.25"/><circle cx="129.8" cy="66.8" r="1.25"/><circle cx="152.3" cy="79.5" r="1.25"/><circle cx="148.0" cy="78.5" r="1.25"/><circle cx="146.0" cy="84.0" r="1.25"/><circle cx="139.6" cy="78.6" r="1.25"/><circle cx="143.4" cy="79.4" r="1.25"/><circle cx="147.0" cy="78.7" r="1.25"/><circle cx="138.2" cy="76.5" r="1.25"/><circle cx="152.6" cy="79.3" r="1.25"/><circle cx="151.4" cy="76.2" r="1.25"/><circle cx="142.9" cy="77.7" r="1.25"/><circle cx="140.9" cy="76.5" r="1.25"/><circle cx="141.4" cy="82.2" r="1.25"/><circle cx="138.3" cy="76.8" r="1.25"/><circle cx="143.3" cy="71.1" r="1.25"/><circle cx="142.5" cy="82.0" r="1.25"/><circle cx="97.0" cy="103.5" r="1.25"/><circle cx="99.0" cy="103.5" r="1.25"/><circle cx="190.8" cy="93.0" r="1.25"/><circle cx="189.4" cy="92.5" r="1.25"/><circle cx="191.9" cy="92.9" r="1.25"/><circle cx="188.6" cy="119.9" r="1.25"/><circle cx="189.0" cy="119.5" r="1.25"/><circle cx="188.6" cy="120.1" r="1.25"/><circle cx="436.6" cy="60.2" r="1.25"/><circle cx="436.6" cy="64.5" r="1.25"/><circle cx="436.3" cy="62.1" r="1.25"/><circle cx="432.5" cy="89.9" r="1.25"/><circle cx="437.0" cy="98.7" r="1.25"/><circle cx="432.7" cy="94.0" r="1.25"/><circle cx="434.8" cy="88.7" r="1.25"/><circle cx="436.7" cy="93.0" r="1.25"/><circle cx="434.1" cy="82.4" r="1.25"/><circle cx="437.5" cy="94.0" r="1.25"/><circle cx="438.4" cy="99.6" r="1.25"/><circle cx="434.1" cy="94.2" r="1.25"/><circle cx="429.8" cy="81.3" r="1.25"/><circle cx="434.0" cy="95.7" r="1.25"/><circle cx="435.2" cy="99.4" r="1.25"/><circle cx="432.9" cy="83.6" r="1.25"/><circle cx="437.3" cy="98.3" r="1.25"/><circle cx="436.7" cy="96.4" r="1.25"/><circle cx="432.3" cy="89.0" r="1.25"/><circle cx="435.7" cy="96.9" r="1.25"/><circle cx="432.9" cy="85.4" r="1.25"/><circle cx="436.7" cy="88.5" r="1.25"/><circle cx="436.1" cy="94.1" r="1.25"/><circle cx="430.4" cy="82.5" r="1.25"/><circle cx="435.6" cy="98.9" r="1.25"/><circle cx="437.9" cy="99.5" r="1.25"/><circle cx="433.8" cy="87.6" r="1.25"/><circle cx="435.4" cy="87.2" r="1.25"/><circle cx="435.4" cy="94.9" r="1.25"/><circle cx="432.0" cy="86.5" r="1.25"/><circle cx="434.0" cy="88.3" r="1.25"/><circle cx="435.0" cy="101.5" r="1.25"/><circle cx="430.4" cy="87.1" r="1.25"/><circle cx="435.8" cy="92.0" r="1.25"/><circle cx="432.4" cy="81.7" r="1.25"/><circle cx="436.2" cy="92.4" r="1.25"/><circle cx="430.4" cy="86.6" r="1.25"/><circle cx="435.8" cy="88.3" r="1.25"/><circle cx="431.9" cy="80.0" r="1.25"/><circle cx="437.4" cy="97.0" r="1.25"/><circle cx="432.3" cy="80.0" r="1.25"/><circle cx="433.8" cy="87.1" r="1.25"/><circle cx="437.4" cy="96.7" r="1.25"/><circle cx="436.8" cy="103.6" r="1.25"/><circle cx="437.4" cy="107.4" r="1.25"/><circle cx="436.6" cy="109.2" r="1.25"/><circle cx="434.1" cy="106.3" r="1.25"/><circle cx="434.6" cy="110.6" r="1.25"/><circle cx="431.1" cy="105.9" r="1.25"/><circle cx="437.3" cy="108.6" r="1.25"/><circle cx="436.9" cy="113.7" r="1.25"/><circle cx="431.2" cy="104.6" r="1.25"/><circle cx="433.7" cy="108.6" r="1.25"/><circle cx="430.4" cy="105.4" r="1.25"/><circle cx="437.6" cy="108.7" r="1.25"/><circle cx="440.1" cy="107.2" r="1.25"/><circle cx="431.8" cy="110.9" r="1.25"/><circle cx="437.6" cy="108.3" r="1.25"/><circle cx="433.6" cy="111.9" r="1.25"/><circle cx="435.3" cy="102.7" r="1.25"/><circle cx="439.5" cy="111.6" r="1.25"/><circle cx="439.0" cy="109.4" r="1.25"/><circle cx="443.7" cy="110.2" r="1.25"/><circle cx="435.2" cy="110.1" r="1.25"/><circle cx="437.6" cy="102.4" r="1.25"/><circle cx="435.8" cy="105.8" r="1.25"/><circle cx="435.7" cy="109.4" r="1.25"/><circle cx="438.6" cy="107.8" r="1.25"/><circle cx="434.3" cy="105.8" r="1.25"/><circle cx="436.9" cy="113.4" r="1.25"/><circle cx="434.0" cy="110.2" r="1.25"/><circle cx="429.4" cy="108.2" r="1.25"/><circle cx="441.6" cy="110.1" r="1.25"/><circle cx="433.2" cy="106.3" r="1.25"/><circle cx="438.7" cy="112.9" r="1.25"/><circle cx="435.6" cy="103.9" r="1.25"/><circle cx="439.3" cy="106.3" r="1.25"/><circle cx="419.0" cy="100.3" r="1.25"/><circle cx="424.9" cy="96.3" r="1.25"/><circle cx="428.2" cy="98.3" r="1.25"/><circle cx="430.1" cy="97.6" r="1.25"/><circle cx="426.0" cy="97.0" r="1.25"/><circle cx="395.2" cy="98.1" r="1.25"/><circle cx="396.5" cy="98.1" r="1.25"/><circle cx="394.8" cy="106.1" r="1.25"/><circle cx="393.0" cy="109.4" r="1.25"/><circle cx="72.6" cy="247.9" r="1.25"/><circle cx="85.3" cy="234.1" r="1.25"/><circle cx="81.5" cy="241.0" r="1.25"/><circle cx="83.2" cy="216.4" r="1.25"/><circle cx="86.0" cy="223.0" r="1.25"/><circle cx="78.6" cy="221.3" r="1.25"/><circle cx="86.4" cy="227.3" r="1.25"/><circle cx="85.2" cy="232.1" r="1.25"/><circle cx="78.4" cy="237.5" r="1.25"/><circle cx="77.2" cy="234.3" r="1.25"/><circle cx="84.4" cy="215.5" r="1.25"/><circle cx="86.1" cy="223.4" r="1.25"/><circle cx="82.9" cy="222.6" r="1.25"/><circle cx="82.5" cy="230.8" r="1.25"/><circle cx="78.0" cy="250.2" r="1.25"/><circle cx="80.4" cy="226.6" r="1.25"/><circle cx="77.2" cy="227.8" r="1.25"/><circle cx="74.6" cy="251.2" r="1.25"/><circle cx="70.9" cy="248.2" r="1.25"/><circle cx="71.0" cy="242.4" r="1.25"/><circle cx="75.1" cy="247.4" r="1.25"/><circle cx="81.3" cy="247.8" r="1.25"/><circle cx="85.4" cy="222.6" r="1.25"/><circle cx="85.3" cy="224.0" r="1.25"/><circle cx="82.7" cy="228.9" r="1.25"/><circle cx="83.3" cy="239.8" r="1.25"/><circle cx="79.3" cy="232.2" r="1.25"/><circle cx="71.8" cy="240.6" r="1.25"/><circle cx="88.5" cy="214.7" r="1.25"/><circle cx="72.0" cy="247.3" r="1.25"/><circle cx="85.1" cy="222.4" r="1.25"/><circle cx="82.9" cy="231.2" r="1.25"/><circle cx="73.6" cy="248.2" r="1.25"/><circle cx="74.6" cy="244.3" r="1.25"/><circle cx="74.4" cy="252.3" r="1.25"/><circle cx="77.4" cy="226.0" r="1.25"/><circle cx="82.0" cy="233.7" r="1.25"/><circle cx="86.7" cy="226.5" r="1.25"/><circle cx="81.2" cy="251.9" r="1.25"/><circle cx="83.2" cy="242.5" r="1.25"/><circle cx="85.0" cy="222.5" r="1.25"/><circle cx="83.8" cy="219.6" r="1.25"/><circle cx="85.0" cy="221.8" r="1.25"/><circle cx="88.0" cy="215.4" r="1.25"/><circle cx="76.9" cy="243.0" r="1.25"/><circle cx="86.1" cy="225.0" r="1.25"/><circle cx="89.8" cy="219.3" r="1.25"/><circle cx="82.1" cy="239.6" r="1.25"/><circle cx="78.9" cy="249.5" r="1.25"/><circle cx="77.9" cy="250.8" r="1.25"/><circle cx="85.1" cy="245.8" r="1.25"/><circle cx="83.1" cy="217.1" r="1.25"/><circle cx="86.7" cy="217.5" r="1.25"/><circle cx="76.3" cy="234.1" r="1.25"/><circle cx="72.7" cy="238.7" r="1.25"/><circle cx="82.8" cy="234.4" r="1.25"/><circle cx="86.9" cy="231.6" r="1.25"/><circle cx="82.6" cy="229.2" r="1.25"/><circle cx="86.0" cy="214.5" r="1.25"/><circle cx="89.5" cy="215.5" r="1.25"/><circle cx="81.0" cy="247.0" r="1.25"/><circle cx="84.0" cy="249.0" r="1.25"/><circle cx="86.0" cy="251.0" r="1.25"/><circle cx="70.2" cy="271.2" r="1.25"/><circle cx="77.6" cy="268.2" r="1.25"/><circle cx="81.5" cy="269.7" r="1.25"/><circle cx="79.1" cy="272.2" r="1.25"/><circle cx="79.8" cy="275.6" r="1.25"/><circle cx="72.4" cy="277.6" r="1.25"/><circle cx="74.1" cy="270.3" r="1.25"/><circle cx="82.9" cy="267.5" r="1.25"/><circle cx="76.3" cy="276.4" r="1.25"/><circle cx="75.5" cy="271.6" r="1.25"/><circle cx="72.3" cy="273.1" r="1.25"/><circle cx="82.6" cy="261.7" r="1.25"/><circle cx="82.8" cy="265.9" r="1.25"/><circle cx="77.0" cy="274.9" r="1.25"/><circle cx="83.5" cy="276.1" r="1.25"/><circle cx="84.8" cy="265.0" r="1.25"/><circle cx="72.9" cy="266.5" r="1.25"/><circle cx="86.0" cy="268.2" r="1.25"/><circle cx="80.5" cy="265.1" r="1.25"/><circle cx="84.5" cy="268.9" r="1.25"/><circle cx="81.9" cy="266.8" r="1.25"/><circle cx="70.7" cy="267.2" r="1.25"/><circle cx="71.9" cy="278.6" r="1.25"/><circle cx="75.6" cy="277.6" r="1.25"/><circle cx="78.4" cy="263.2" r="1.25"/><circle cx="82.0" cy="264.3" r="1.25"/><circle cx="80.1" cy="280.8" r="1.25"/><circle cx="79.7" cy="272.4" r="1.25"/><circle cx="75.1" cy="268.8" r="1.25"/><circle cx="73.1" cy="269.4" r="1.25"/><circle cx="87.6" cy="268.7" r="1.25"/><circle cx="86.4" cy="269.6" r="1.25"/><circle cx="82.4" cy="273.3" r="1.25"/><circle cx="78.3" cy="269.9" r="1.25"/><circle cx="81.9" cy="270.6" r="1.25"/><circle cx="75.6" cy="268.9" r="1.25"/><circle cx="84.8" cy="276.2" r="1.25"/><circle cx="79.9" cy="263.3" r="1.25"/><circle cx="76.4" cy="278.9" r="1.25"/><circle cx="77.4" cy="278.4" r="1.25"/><circle cx="87.0" cy="267.9" r="1.25"/><circle cx="83.1" cy="264.3" r="1.25"/><circle cx="81.4" cy="272.9" r="1.25"/><circle cx="74.9" cy="268.9" r="1.25"/><circle cx="76.1" cy="261.1" r="1.25"/><circle cx="82.7" cy="273.2" r="1.25"/><circle cx="78.1" cy="277.8" r="1.25"/><circle cx="73.0" cy="272.3" r="1.25"/><circle cx="75.0" cy="277.9" r="1.25"/><circle cx="79.0" cy="265.6" r="1.25"/><circle cx="86.1" cy="265.3" r="1.25"/><circle cx="71.5" cy="271.0" r="1.25"/><circle cx="82.0" cy="271.6" r="1.25"/><circle cx="87.1" cy="271.6" r="1.25"/><circle cx="84.5" cy="262.3" r="1.25"/><circle cx="78.1" cy="260.5" r="1.25"/><circle cx="73.7" cy="271.6" r="1.25"/><circle cx="72.5" cy="264.7" r="1.25"/><circle cx="75.9" cy="271.2" r="1.25"/><circle cx="87.0" cy="272.3" r="1.25"/><circle cx="79.1" cy="280.3" r="1.25"/><circle cx="83.4" cy="274.2" r="1.25"/><circle cx="83.5" cy="285.2" r="1.25"/><circle cx="88.6" cy="282.0" r="1.25"/><circle cx="92.1" cy="281.6" r="1.25"/><circle cx="84.8" cy="280.1" r="1.25"/><circle cx="124.5" cy="215.5" r="1.25"/><circle cx="126.0" cy="215.5" r="1.25"/><circle cx="127.6" cy="215.5" r="1.25"/><circle cx="372.4" cy="250.7" r="1.25"/><circle cx="372.9" cy="250.2" r="1.25"/><circle cx="368.6" cy="258.9" r="1.25"/><circle cx="391.3" cy="254.9" r="1.25"/><circle cx="381.1" cy="250.4" r="1.25"/><circle cx="366.3" cy="258.1" r="1.25"/><circle cx="368.0" cy="255.1" r="1.25"/><circle cx="366.5" cy="255.8" r="1.25"/><circle cx="366.4" cy="252.9" r="1.25"/><circle cx="384.3" cy="251.4" r="1.25"/><circle cx="385.6" cy="253.3" r="1.25"/><circle cx="388.5" cy="255.5" r="1.25"/><circle cx="384.4" cy="258.6" r="1.25"/><circle cx="372.3" cy="251.4" r="1.25"/><circle cx="376.5" cy="260.7" r="1.25"/><circle cx="386.8" cy="251.5" r="1.25"/><circle cx="387.1" cy="256.6" r="1.25"/><circle cx="382.6" cy="261.2" r="1.25"/><circle cx="380.4" cy="261.8" r="1.25"/><circle cx="377.7" cy="249.6" r="1.25"/><circle cx="388.0" cy="258.3" r="1.25"/><circle cx="365.5" cy="258.3" r="1.25"/><circle cx="387.1" cy="254.1" r="1.25"/><circle cx="363.8" cy="255.3" r="1.25"/><circle cx="386.7" cy="253.7" r="1.25"/><circle cx="385.9" cy="259.8" r="1.25"/><circle cx="390.3" cy="256.1" r="1.25"/><circle cx="369.8" cy="255.1" r="1.25"/><circle cx="383.3" cy="261.1" r="1.25"/><circle cx="370.9" cy="261.1" r="1.25"/><circle cx="389.2" cy="252.4" r="1.25"/><circle cx="388.9" cy="252.8" r="1.25"/><circle cx="374.8" cy="250.3" r="1.25"/><circle cx="384.9" cy="249.2" r="1.25"/><circle cx="375.9" cy="249.0" r="1.25"/><circle cx="370.9" cy="253.8" r="1.25"/><circle cx="373.2" cy="261.0" r="1.25"/><circle cx="366.5" cy="255.6" r="1.25"/><circle cx="369.3" cy="260.7" r="1.25"/><circle cx="375.7" cy="248.8" r="1.25"/><circle cx="386.4" cy="255.5" r="1.25"/><circle cx="388.5" cy="259.2" r="1.25"/><circle cx="387.8" cy="251.3" r="1.25"/><circle cx="380.7" cy="259.8" r="1.25"/><circle cx="387.3" cy="257.8" r="1.25"/><circle cx="383.6" cy="251.7" r="1.25"/><circle cx="377.6" cy="251.2" r="1.25"/><circle cx="387.7" cy="253.4" r="1.25"/><circle cx="377.0" cy="250.1" r="1.25"/><circle cx="368.8" cy="254.0" r="1.25"/><circle cx="364.9" cy="259.4" r="1.25"/><circle cx="370.7" cy="254.1" r="1.25"/><circle cx="389.0" cy="259.0" r="1.25"/><circle cx="382.3" cy="250.6" r="1.25"/><circle cx="372.9" cy="250.2" r="1.25"/><circle cx="380.1" cy="248.6" r="1.25"/><circle cx="379.9" cy="251.7" r="1.25"/><circle cx="364.8" cy="257.3" r="1.25"/><circle cx="378.0" cy="260.9" r="1.25"/><circle cx="372.7" cy="252.4" r="1.25"/><circle cx="370.3" cy="260.9" r="1.25"/><circle cx="389.1" cy="253.9" r="1.25"/><circle cx="376.9" cy="249.4" r="1.25"/><circle cx="390.7" cy="256.1" r="1.25"/><circle cx="382.1" cy="261.0" r="1.25"/><circle cx="390.6" cy="254.5" r="1.25"/><circle cx="368.6" cy="254.0" r="1.25"/><circle cx="387.3" cy="254.7" r="1.25"/><circle cx="368.6" cy="261.3" r="1.25"/><circle cx="368.5" cy="252.4" r="1.25"/><circle cx="383.9" cy="250.3" r="1.25"/><circle cx="369.5" cy="253.5" r="1.25"/><circle cx="368.4" cy="257.7" r="1.25"/><circle cx="366.4" cy="254.5" r="1.25"/><circle cx="382.3" cy="260.7" r="1.25"/><circle cx="372.6" cy="254.8" r="1.25"/><circle cx="374.9" cy="255.8" r="1.25"/><circle cx="376.7" cy="254.1" r="1.25"/><circle cx="371.9" cy="256.1" r="1.25"/><circle cx="372.6" cy="255.0" r="1.25"/><circle cx="374.0" cy="254.6" r="1.25"/><circle cx="377.3" cy="254.3" r="1.25"/><circle cx="376.2" cy="257.4" r="1.25"/><circle cx="377.1" cy="255.6" r="1.25"/><circle cx="380.1" cy="256.2" r="1.25"/></g><g fill="#2fd882"><circle cx="150.0" cy="27.0" r="1.25"/><circle cx="118.6" cy="58.0" r="1.25"/><circle cx="106.4" cy="54.9" r="1.25"/><circle cx="106.2" cy="59.0" r="1.25"/><circle cx="121.7" cy="56.9" r="1.25"/><circle cx="122.2" cy="56.0" r="1.25"/><circle cx="119.0" cy="51.6" r="1.25"/><circle cx="121.2" cy="51.3" r="1.25"/><circle cx="109.2" cy="52.3" r="1.25"/><circle cx="117.7" cy="58.2" r="1.25"/><circle cx="111.6" cy="53.4" r="1.25"/><circle cx="109.3" cy="52.3" r="1.25"/><circle cx="104.5" cy="48.2" r="1.25"/><circle cx="101.5" cy="50.1" r="1.25"/><circle cx="116.9" cy="55.9" r="1.25"/><circle cx="112.8" cy="55.0" r="1.25"/><circle cx="96.4" cy="51.2" r="1.25"/><circle cx="104.2" cy="58.8" r="1.25"/><circle cx="123.6" cy="48.8" r="1.25"/><circle cx="118.6" cy="48.9" r="1.25"/><circle cx="108.6" cy="50.7" r="1.25"/><circle cx="107.4" cy="51.7" r="1.25"/><circle cx="118.6" cy="59.1" r="1.25"/><circle cx="104.5" cy="55.9" r="1.25"/><circle cx="102.7" cy="59.8" r="1.25"/><circle cx="107.2" cy="51.0" r="1.25"/><circle cx="123.5" cy="53.3" r="1.25"/><circle cx="111.8" cy="58.7" r="1.25"/><circle cx="106.6" cy="51.1" r="1.25"/><circle cx="100.0" cy="57.1" r="1.25"/><circle cx="124.1" cy="52.6" r="1.25"/><circle cx="108.7" cy="59.7" r="1.25"/><circle cx="115.6" cy="57.7" r="1.25"/><circle cx="127.3" cy="54.1" r="1.25"/><circle cx="115.0" cy="49.6" r="1.25"/><circle cx="98.6" cy="56.5" r="1.25"/><circle cx="118.1" cy="48.8" r="1.25"/><circle cx="114.4" cy="56.7" r="1.25"/><circle cx="114.6" cy="57.0" r="1.25"/><circle cx="103.7" cy="52.2" r="1.25"/><circle cx="101.0" cy="58.6" r="1.25"/><circle cx="108.3" cy="55.2" r="1.25"/><circle cx="112.5" cy="60.3" r="1.25"/><circle cx="108.4" cy="50.9" r="1.25"/><circle cx="108.3" cy="48.0" r="1.25"/><circle cx="98.8" cy="50.5" r="1.25"/><circle cx="101.4" cy="52.2" r="1.25"/><circle cx="119.2" cy="57.6" r="1.25"/><circle cx="103.7" cy="55.4" r="1.25"/><circle cx="114.7" cy="57.6" r="1.25"/><circle cx="95.0" cy="54.2" r="1.25"/><circle cx="98.6" cy="51.2" r="1.25"/><circle cx="95.9" cy="52.4" r="1.25"/><circle cx="103.3" cy="57.8" r="1.25"/><circle cx="103.4" cy="49.3" r="1.25"/><circle cx="104.9" cy="54.4" r="1.25"/><circle cx="111.0" cy="53.7" r="1.25"/><circle cx="109.7" cy="52.7" r="1.25"/><circle cx="107.7" cy="48.5" r="1.25"/><circle cx="115.8" cy="57.9" r="1.25"/><circle cx="109.2" cy="48.9" r="1.25"/><circle cx="121.8" cy="55.7" r="1.25"/><circle cx="114.5" cy="50.4" r="1.25"/><circle cx="129.9" cy="52.8" r="1.25"/><circle cx="127.7" cy="56.8" r="1.25"/><circle cx="138.5" cy="57.2" r="1.25"/><circle cx="128.7" cy="54.7" r="1.25"/><circle cx="141.2" cy="60.0" r="1.25"/><circle cx="131.6" cy="50.6" r="1.25"/><circle cx="150.9" cy="58.4" r="1.25"/><circle cx="147.4" cy="52.6" r="1.25"/><circle cx="150.2" cy="48.0" r="1.25"/><circle cx="128.4" cy="53.3" r="1.25"/><circle cx="149.0" cy="56.5" r="1.25"/><circle cx="152.3" cy="50.2" r="1.25"/><circle cx="144.6" cy="58.0" r="1.25"/><circle cx="129.7" cy="48.0" r="1.25"/><circle cx="145.0" cy="49.1" r="1.25"/><circle cx="136.8" cy="49.7" r="1.25"/><circle cx="140.2" cy="54.9" r="1.25"/><circle cx="152.7" cy="56.7" r="1.25"/><circle cx="142.3" cy="54.1" r="1.25"/><circle cx="133.8" cy="56.6" r="1.25"/><circle cx="126.8" cy="50.3" r="1.25"/><circle cx="132.2" cy="54.2" r="1.25"/><circle cx="139.6" cy="60.4" r="1.25"/><circle cx="147.9" cy="55.8" r="1.25"/><circle cx="135.0" cy="58.4" r="1.25"/><circle cx="131.8" cy="56.4" r="1.25"/><circle cx="143.6" cy="54.2" r="1.25"/><circle cx="129.9" cy="50.0" r="1.25"/><circle cx="131.9" cy="54.5" r="1.25"/><circle cx="154.6" cy="49.8" r="1.25"/><circle cx="137.6" cy="53.4" r="1.25"/><circle cx="144.1" cy="60.2" r="1.25"/><circle cx="136.5" cy="60.9" r="1.25"/><circle cx="154.0" cy="51.0" r="1.25"/><circle cx="138.4" cy="49.2" r="1.25"/><circle cx="131.1" cy="49.3" r="1.25"/><circle cx="154.0" cy="50.3" r="1.25"/><circle cx="146.3" cy="48.4" r="1.25"/><circle cx="143.7" cy="53.7" r="1.25"/><circle cx="154.3" cy="55.3" r="1.25"/><circle cx="136.1" cy="51.6" r="1.25"/><circle cx="133.6" cy="57.2" r="1.25"/><circle cx="135.8" cy="53.7" r="1.25"/><circle cx="149.4" cy="48.0" r="1.25"/><circle cx="136.1" cy="50.4" r="1.25"/><circle cx="136.4" cy="51.7" r="1.25"/><circle cx="147.4" cy="55.0" r="1.25"/><circle cx="131.6" cy="59.8" r="1.25"/><circle cx="152.6" cy="53.6" r="1.25"/><circle cx="148.0" cy="53.8" r="1.25"/><circle cx="133.3" cy="60.2" r="1.25"/><circle cx="143.5" cy="48.8" r="1.25"/><circle cx="154.1" cy="50.7" r="1.25"/><circle cx="151.5" cy="53.0" r="1.25"/><circle cx="123.2" cy="54.9" r="1.25"/><circle cx="110.8" cy="116.6" r="1.25"/><circle cx="136.3" cy="129.4" r="1.25"/><circle cx="152.7" cy="83.4" r="1.25"/><circle cx="198.8" cy="102.7" r="1.25"/><circle cx="203.3" cy="100.4" r="1.25"/><circle cx="203.3" cy="108.0" r="1.25"/><circle cx="193.5" cy="115.0" r="1.25"/><circle cx="209.9" cy="95.7" r="1.25"/><circle cx="334.3" cy="27.2" r="1.25"/><circle cx="412.8" cy="18.8" r="1.25"/><circle cx="403.3" cy="31.2" r="1.25"/><circle cx="430.6" cy="24.5" r="1.25"/><circle cx="438.9" cy="30.9" r="1.25"/><circle cx="430.0" cy="40.5" r="1.25"/><circle cx="429.4" cy="43.6" r="1.25"/><circle cx="431.9" cy="46.2" r="1.25"/><circle cx="430.6" cy="45.3" r="1.25"/><circle cx="433.4" cy="75.3" r="1.25"/><circle cx="434.5" cy="74.5" r="1.25"/><circle cx="381.5" cy="107.4" r="1.25"/><circle cx="377.0" cy="91.8" r="1.25"/><circle cx="383.5" cy="102.2" r="1.25"/><circle cx="380.1" cy="110.6" r="1.25"/><circle cx="386.2" cy="98.8" r="1.25"/><circle cx="379.9" cy="105.8" r="1.25"/><circle cx="382.0" cy="90.4" r="1.25"/><circle cx="386.5" cy="111.7" r="1.25"/><circle cx="384.2" cy="93.7" r="1.25"/><circle cx="380.7" cy="109.9" r="1.25"/><circle cx="390.2" cy="97.8" r="1.25"/><circle cx="378.7" cy="95.7" r="1.25"/><circle cx="385.8" cy="91.7" r="1.25"/><circle cx="385.3" cy="96.7" r="1.25"/><circle cx="381.8" cy="94.5" r="1.25"/><circle cx="385.3" cy="95.1" r="1.25"/><circle cx="376.2" cy="97.4" r="1.25"/><circle cx="386.8" cy="111.9" r="1.25"/><circle cx="382.3" cy="95.6" r="1.25"/><circle cx="385.5" cy="102.5" r="1.25"/><circle cx="386.7" cy="112.3" r="1.25"/><circle cx="380.9" cy="110.8" r="1.25"/><circle cx="390.3" cy="94.8" r="1.25"/><circle cx="384.3" cy="96.3" r="1.25"/><circle cx="382.1" cy="108.5" r="1.25"/><circle cx="382.4" cy="91.8" r="1.25"/><circle cx="381.8" cy="112.8" r="1.25"/><circle cx="381.5" cy="93.4" r="1.25"/><circle cx="383.3" cy="108.6" r="1.25"/><circle cx="378.7" cy="97.3" r="1.25"/><circle cx="382.4" cy="100.7" r="1.25"/><circle cx="378.8" cy="91.3" r="1.25"/><circle cx="385.9" cy="112.9" r="1.25"/><circle cx="384.4" cy="112.0" r="1.25"/><circle cx="383.8" cy="103.0" r="1.25"/><circle cx="386.8" cy="104.0" r="1.25"/><circle cx="386.0" cy="110.7" r="1.25"/><circle cx="378.6" cy="97.9" r="1.25"/><circle cx="376.4" cy="96.9" r="1.25"/><circle cx="389.1" cy="94.3" r="1.25"/><circle cx="382.4" cy="99.5" r="1.25"/><circle cx="385.7" cy="91.4" r="1.25"/><circle cx="387.5" cy="99.0" r="1.25"/><circle cx="382.2" cy="110.6" r="1.25"/><circle cx="387.6" cy="98.2" r="1.25"/><circle cx="381.7" cy="108.3" r="1.25"/><circle cx="381.5" cy="102.5" r="1.25"/><circle cx="377.4" cy="105.7" r="1.25"/><circle cx="385.2" cy="106.0" r="1.25"/><circle cx="388.3" cy="109.0" r="1.25"/><circle cx="378.4" cy="92.6" r="1.25"/><circle cx="384.6" cy="91.4" r="1.25"/><circle cx="377.1" cy="92.5" r="1.25"/><circle cx="378.2" cy="92.0" r="1.25"/><circle cx="387.5" cy="90.0" r="1.25"/><circle cx="390.0" cy="91.6" r="1.25"/><circle cx="383.4" cy="91.0" r="1.25"/><circle cx="385.2" cy="90.3" r="1.25"/><circle cx="379.0" cy="110.3" r="1.25"/><circle cx="377.3" cy="105.9" r="1.25"/><circle cx="377.8" cy="103.0" r="1.25"/><circle cx="376.8" cy="102.7" r="1.25"/><circle cx="378.4" cy="103.0" r="1.25"/><circle cx="378.4" cy="105.4" r="1.25"/><circle cx="374.7" cy="98.5" r="1.25"/><circle cx="375.2" cy="94.4" r="1.25"/><circle cx="380.8" cy="111.0" r="1.25"/><circle cx="376.6" cy="104.2" r="1.25"/><circle cx="373.0" cy="98.7" r="1.25"/><circle cx="377.3" cy="104.4" r="1.25"/><circle cx="387.0" cy="111.6" r="1.25"/><circle cx="382.3" cy="113.7" r="1.25"/><circle cx="382.6" cy="113.8" r="1.25"/><circle cx="385.8" cy="112.4" r="1.25"/><circle cx="386.7" cy="112.9" r="1.25"/><circle cx="383.0" cy="113.6" r="1.25"/><circle cx="390.4" cy="108.3" r="1.25"/><circle cx="108.1" cy="210.1" r="1.25"/><circle cx="101.0" cy="216.7" r="1.25"/><circle cx="151.2" cy="208.3" r="1.25"/><circle cx="155.8" cy="212.1" r="1.25"/><circle cx="156.9" cy="220.0" r="1.25"/><circle cx="148.6" cy="217.0" r="1.25"/><circle cx="148.5" cy="214.5" r="1.25"/><circle cx="140.5" cy="223.7" r="1.25"/><circle cx="137.2" cy="223.9" r="1.25"/><circle cx="136.5" cy="216.9" r="1.25"/><circle cx="154.5" cy="219.1" r="1.25"/><circle cx="151.2" cy="215.0" r="1.25"/><circle cx="160.0" cy="226.5" r="1.25"/><circle cx="159.1" cy="217.4" r="1.25"/><circle cx="136.4" cy="219.3" r="1.25"/><circle cx="158.8" cy="224.7" r="1.25"/><circle cx="148.9" cy="207.4" r="1.25"/><circle cx="153.7" cy="220.7" r="1.25"/><circle cx="152.1" cy="221.9" r="1.25"/><circle cx="156.9" cy="221.3" r="1.25"/><circle cx="153.8" cy="215.9" r="1.25"/><circle cx="157.3" cy="213.9" r="1.25"/><circle cx="141.9" cy="210.8" r="1.25"/><circle cx="149.0" cy="212.4" r="1.25"/><circle cx="152.5" cy="224.7" r="1.25"/><circle cx="155.6" cy="211.2" r="1.25"/><circle cx="149.8" cy="216.7" r="1.25"/><circle cx="143.5" cy="219.1" r="1.25"/><circle cx="145.7" cy="225.1" r="1.25"/><circle cx="156.7" cy="227.5" r="1.25"/><circle cx="143.9" cy="210.7" r="1.25"/><circle cx="144.0" cy="210.0" r="1.25"/><circle cx="152.3" cy="225.3" r="1.25"/><circle cx="142.5" cy="221.6" r="1.25"/><circle cx="137.1" cy="220.9" r="1.25"/><circle cx="146.8" cy="206.4" r="1.25"/><circle cx="152.1" cy="215.9" r="1.25"/><circle cx="137.7" cy="221.8" r="1.25"/><circle cx="138.0" cy="213.1" r="1.25"/><circle cx="146.7" cy="216.3" r="1.25"/><circle cx="139.3" cy="211.4" r="1.25"/><circle cx="138.3" cy="209.1" r="1.25"/><circle cx="142.4" cy="218.5" r="1.25"/><circle cx="150.3" cy="217.3" r="1.25"/><circle cx="155.1" cy="211.6" r="1.25"/><circle cx="139.9" cy="222.2" r="1.25"/><circle cx="149.0" cy="208.1" r="1.25"/><circle cx="141.6" cy="208.5" r="1.25"/><circle cx="161.2" cy="222.3" r="1.25"/><circle cx="144.8" cy="208.3" r="1.25"/><circle cx="138.9" cy="224.0" r="1.25"/><circle cx="146.8" cy="205.6" r="1.25"/><circle cx="141.2" cy="206.4" r="1.25"/><circle cx="152.0" cy="212.2" r="1.25"/><circle cx="158.6" cy="221.2" r="1.25"/><circle cx="141.7" cy="218.2" r="1.25"/><circle cx="146.1" cy="218.4" r="1.25"/><circle cx="152.7" cy="220.2" r="1.25"/><circle cx="161.1" cy="222.5" r="1.25"/><circle cx="150.7" cy="224.6" r="1.25"/><circle cx="148.6" cy="208.8" r="1.25"/><circle cx="153.1" cy="209.2" r="1.25"/><circle cx="148.5" cy="220.0" r="1.25"/><circle cx="134.5" cy="212.0" r="1.25"/><circle cx="141.9" cy="217.4" r="1.25"/><circle cx="156.9" cy="213.0" r="1.25"/><circle cx="146.1" cy="207.8" r="1.25"/><circle cx="157.6" cy="230.8" r="1.25"/><circle cx="160.5" cy="238.8" r="1.25"/><circle cx="160.6" cy="234.0" r="1.25"/><circle cx="160.7" cy="238.6" r="1.25"/><circle cx="158.1" cy="239.3" r="1.25"/><circle cx="156.2" cy="243.4" r="1.25"/><circle cx="154.4" cy="242.7" r="1.25"/><circle cx="164.5" cy="240.9" r="1.25"/><circle cx="159.7" cy="237.9" r="1.25"/><circle cx="155.0" cy="234.4" r="1.25"/><circle cx="158.6" cy="243.0" r="1.25"/><circle cx="154.4" cy="240.8" r="1.25"/><circle cx="163.1" cy="233.3" r="1.25"/><circle cx="154.1" cy="240.1" r="1.25"/><circle cx="159.4" cy="239.5" r="1.25"/><circle cx="167.1" cy="244.1" r="1.25"/><circle cx="165.0" cy="233.8" r="1.25"/><circle cx="153.4" cy="239.3" r="1.25"/><circle cx="152.1" cy="239.2" r="1.25"/><circle cx="155.7" cy="235.2" r="1.25"/><circle cx="167.7" cy="236.6" r="1.25"/><circle cx="161.2" cy="240.2" r="1.25"/><circle cx="163.5" cy="244.5" r="1.25"/><circle cx="158.0" cy="240.5" r="1.25"/><circle cx="156.0" cy="242.3" r="1.25"/><circle cx="161.7" cy="237.6" r="1.25"/><circle cx="163.7" cy="230.7" r="1.25"/><circle cx="159.4" cy="247.5" r="1.25"/><circle cx="160.0" cy="244.3" r="1.25"/><circle cx="156.2" cy="243.1" r="1.25"/><circle cx="162.9" cy="240.1" r="1.25"/><circle cx="154.3" cy="240.2" r="1.25"/><circle cx="159.6" cy="233.9" r="1.25"/><circle cx="165.3" cy="238.1" r="1.25"/><circle cx="158.2" cy="238.6" r="1.25"/><circle cx="166.6" cy="239.2" r="1.25"/><circle cx="160.9" cy="235.5" r="1.25"/><circle cx="155.6" cy="244.0" r="1.25"/><circle cx="165.7" cy="232.7" r="1.25"/><circle cx="156.9" cy="239.5" r="1.25"/><circle cx="159.2" cy="231.6" r="1.25"/><circle cx="163.5" cy="246.7" r="1.25"/><circle cx="161.3" cy="241.6" r="1.25"/><circle cx="160.4" cy="245.2" r="1.25"/><circle cx="164.9" cy="246.1" r="1.25"/><circle cx="162.9" cy="237.7" r="1.25"/><circle cx="153.6" cy="233.9" r="1.25"/><circle cx="156.5" cy="236.7" r="1.25"/><circle cx="159.6" cy="236.3" r="1.25"/><circle cx="152.9" cy="236.7" r="1.25"/><circle cx="141.3" cy="229.6" r="1.25"/><circle cx="141.6" cy="229.2" r="1.25"/><circle cx="139.3" cy="226.5" r="1.25"/><circle cx="142.0" cy="229.5" r="1.25"/><circle cx="144.0" cy="230.6" r="1.25"/><circle cx="178.3" cy="272.5" r="1.25"/><circle cx="76.3" cy="280.7" r="1.25"/><circle cx="88.0" cy="289.6" r="1.25"/><circle cx="75.9" cy="299.8" r="1.25"/><circle cx="75.5" cy="310.9" r="1.25"/><circle cx="81.0" cy="308.7" r="1.25"/><circle cx="107.3" cy="290.3" r="1.25"/><circle cx="115.4" cy="292.6" r="1.25"/><circle cx="120.8" cy="294.3" r="1.25"/><circle cx="125.9" cy="278.2" r="1.25"/><circle cx="126.0" cy="278.0" r="1.25"/><circle cx="360.7" cy="270.4" r="1.25"/><circle cx="337.5" cy="282.0" r="1.25"/><circle cx="331.7" cy="286.3" r="1.25"/><circle cx="355.8" cy="305.9" r="1.25"/><circle cx="363.5" cy="304.4" r="1.25"/><circle cx="367.1" cy="307.4" r="1.25"/><circle cx="389.3" cy="210.5" r="1.25"/><circle cx="373.7" cy="214.4" r="1.25"/><circle cx="385.9" cy="204.8" r="1.25"/><circle cx="378.6" cy="206.3" r="1.25"/><circle cx="370.9" cy="208.9" r="1.25"/><circle cx="375.2" cy="214.2" r="1.25"/><circle cx="370.7" cy="213.8" r="1.25"/><circle cx="371.3" cy="214.7" r="1.25"/><circle cx="389.7" cy="209.2" r="1.25"/><circle cx="372.5" cy="213.5" r="1.25"/><circle cx="388.4" cy="208.8" r="1.25"/><circle cx="386.0" cy="206.7" r="1.25"/><circle cx="370.1" cy="212.8" r="1.25"/><circle cx="371.1" cy="212.6" r="1.25"/><circle cx="373.7" cy="208.4" r="1.25"/><circle cx="381.0" cy="206.3" r="1.25"/><circle cx="372.0" cy="207.4" r="1.25"/><circle cx="383.6" cy="205.6" r="1.25"/><circle cx="388.1" cy="213.1" r="1.25"/><circle cx="381.7" cy="215.1" r="1.25"/><circle cx="383.6" cy="214.0" r="1.25"/><circle cx="386.0" cy="206.5" r="1.25"/><circle cx="385.1" cy="213.7" r="1.25"/><circle cx="384.0" cy="205.9" r="1.25"/><circle cx="382.3" cy="215.2" r="1.25"/><circle cx="378.1" cy="206.2" r="1.25"/><circle cx="388.4" cy="211.6" r="1.25"/><circle cx="384.1" cy="213.8" r="1.25"/><circle cx="386.0" cy="214.9" r="1.25"/><circle cx="370.2" cy="208.7" r="1.25"/><circle cx="371.9" cy="210.1" r="1.25"/><circle cx="383.5" cy="214.1" r="1.25"/><circle cx="371.1" cy="211.0" r="1.25"/><circle cx="371.4" cy="214.0" r="1.25"/><circle cx="384.9" cy="206.1" r="1.25"/><circle cx="386.6" cy="206.4" r="1.25"/><circle cx="371.2" cy="208.0" r="1.25"/><circle cx="389.6" cy="206.2" r="1.25"/><circle cx="388.1" cy="213.6" r="1.25"/><circle cx="373.3" cy="212.9" r="1.25"/><circle cx="375.7" cy="214.5" r="1.25"/><circle cx="372.6" cy="210.8" r="1.25"/><circle cx="388.6" cy="212.7" r="1.25"/><circle cx="376.7" cy="216.0" r="1.25"/><circle cx="388.0" cy="212.9" r="1.25"/><circle cx="377.0" cy="215.2" r="1.25"/><circle cx="390.4" cy="206.6" r="1.25"/><circle cx="371.9" cy="209.6" r="1.25"/><circle cx="388.1" cy="206.7" r="1.25"/><circle cx="373.5" cy="213.4" r="1.25"/><circle cx="369.3" cy="211.7" r="1.25"/><circle cx="380.6" cy="215.5" r="1.25"/><circle cx="376.2" cy="216.4" r="1.25"/><circle cx="372.0" cy="208.7" r="1.25"/><circle cx="381.2" cy="215.2" r="1.25"/><circle cx="387.3" cy="213.7" r="1.25"/><circle cx="388.3" cy="213.4" r="1.25"/><circle cx="374.6" cy="207.8" r="1.25"/><circle cx="392.2" cy="209.2" r="1.25"/><circle cx="390.2" cy="207.5" r="1.25"/><circle cx="376.9" cy="214.7" r="1.25"/><circle cx="386.5" cy="206.4" r="1.25"/><circle cx="372.4" cy="207.7" r="1.25"/><circle cx="371.7" cy="209.5" r="1.25"/><circle cx="376.5" cy="205.5" r="1.25"/><circle cx="383.9" cy="215.5" r="1.25"/><circle cx="370.7" cy="213.2" r="1.25"/><circle cx="384.3" cy="213.8" r="1.25"/><circle cx="387.9" cy="213.0" r="1.25"/><circle cx="376.5" cy="215.8" r="1.25"/><circle cx="390.7" cy="208.1" r="1.25"/><circle cx="370.3" cy="211.8" r="1.25"/><circle cx="377.0" cy="206.6" r="1.25"/><circle cx="385.5" cy="214.6" r="1.25"/><circle cx="385.1" cy="214.8" r="1.25"/><circle cx="374.9" cy="214.0" r="1.25"/><circle cx="379.5" cy="216.5" r="1.25"/><circle cx="373.9" cy="215.9" r="1.25"/><circle cx="372.3" cy="207.4" r="1.25"/><circle cx="391.6" cy="209.0" r="1.25"/><circle cx="374.3" cy="206.5" r="1.25"/><circle cx="389.0" cy="212.4" r="1.25"/><circle cx="375.3" cy="214.6" r="1.25"/><circle cx="374.0" cy="208.0" r="1.25"/><circle cx="387.4" cy="207.6" r="1.25"/><circle cx="370.8" cy="209.4" r="1.25"/><circle cx="379.6" cy="205.5" r="1.25"/><circle cx="386.3" cy="205.8" r="1.25"/><circle cx="389.0" cy="209.2" r="1.25"/><circle cx="370.9" cy="212.3" r="1.25"/><circle cx="381.8" cy="205.5" r="1.25"/><circle cx="375.7" cy="214.4" r="1.25"/><circle cx="388.4" cy="208.1" r="1.25"/><circle cx="386.6" cy="205.3" r="1.25"/><circle cx="371.4" cy="214.6" r="1.25"/><circle cx="389.9" cy="210.9" r="1.25"/><circle cx="388.8" cy="207.7" r="1.25"/><circle cx="370.9" cy="209.3" r="1.25"/><circle cx="388.0" cy="207.2" r="1.25"/><circle cx="384.1" cy="215.4" r="1.25"/><circle cx="370.1" cy="262.3" r="1.25"/><circle cx="377.5" cy="263.1" r="1.25"/><circle cx="433.0" cy="273.2" r="1.25"/><circle cx="472.9" cy="265.4" r="1.25"/><circle cx="472.9" cy="267.0" r="1.25"/><circle cx="473.0" cy="268.5" r="1.25"/></g><g fill="#c92ae0"><circle cx="129.9" cy="91.8" r="1.25"/><circle cx="182.9" cy="105.2" r="1.25"/><circle cx="171.5" cy="99.2" r="1.25"/><circle cx="162.1" cy="111.5" r="1.25"/><circle cx="166.9" cy="114.3" r="1.25"/><circle cx="165.3" cy="102.1" r="1.25"/><circle cx="152.9" cy="92.4" r="1.25"/><circle cx="155.8" cy="94.2" r="1.25"/><circle cx="146.8" cy="95.2" r="1.25"/><circle cx="148.2" cy="110.9" r="1.25"/><circle cx="182.0" cy="104.4" r="1.25"/><circle cx="169.6" cy="98.3" r="1.25"/><circle cx="169.0" cy="114.9" r="1.25"/><circle cx="178.7" cy="109.0" r="1.25"/><circle cx="177.3" cy="96.1" r="1.25"/><circle cx="171.6" cy="111.7" r="1.25"/><circle cx="176.0" cy="117.0" r="1.25"/><circle cx="166.0" cy="104.0" r="1.25"/><circle cx="154.4" cy="93.3" r="1.25"/><circle cx="168.3" cy="97.7" r="1.25"/><circle cx="156.9" cy="93.5" r="1.25"/><circle cx="166.9" cy="101.9" r="1.25"/><circle cx="179.9" cy="110.1" r="1.25"/><circle cx="153.9" cy="101.9" r="1.25"/><circle cx="158.2" cy="112.5" r="1.25"/><circle cx="159.4" cy="112.6" r="1.25"/><circle cx="158.5" cy="94.3" r="1.25"/><circle cx="179.8" cy="106.5" r="1.25"/><circle cx="159.5" cy="104.3" r="1.25"/><circle cx="148.1" cy="92.6" r="1.25"/><circle cx="164.3" cy="108.5" r="1.25"/><circle cx="162.2" cy="111.6" r="1.25"/><circle cx="155.9" cy="90.2" r="1.25"/><circle cx="150.1" cy="102.4" r="1.25"/><circle cx="149.4" cy="92.0" r="1.25"/><circle cx="160.6" cy="96.0" r="1.25"/><circle cx="169.1" cy="104.6" r="1.25"/><circle cx="145.8" cy="91.9" r="1.25"/><circle cx="181.8" cy="101.1" r="1.25"/><circle cx="173.4" cy="100.3" r="1.25"/><circle cx="151.4" cy="91.5" r="1.25"/><circle cx="181.0" cy="108.1" r="1.25"/><circle cx="157.2" cy="96.0" r="1.25"/><circle cx="150.7" cy="111.0" r="1.25"/><circle cx="164.2" cy="107.5" r="1.25"/><circle cx="150.9" cy="91.5" r="1.25"/><circle cx="154.7" cy="112.7" r="1.25"/><circle cx="159.6" cy="102.6" r="1.25"/><circle cx="164.2" cy="100.9" r="1.25"/><circle cx="154.9" cy="109.4" r="1.25"/><circle cx="150.6" cy="105.7" r="1.25"/><circle cx="143.6" cy="97.7" r="1.25"/><circle cx="174.8" cy="104.6" r="1.25"/><circle cx="149.5" cy="91.8" r="1.25"/><circle cx="154.6" cy="91.9" r="1.25"/><circle cx="155.1" cy="107.7" r="1.25"/><circle cx="175.2" cy="108.1" r="1.25"/><circle cx="178.9" cy="104.3" r="1.25"/><circle cx="167.3" cy="93.3" r="1.25"/><circle cx="172.7" cy="102.4" r="1.25"/><circle cx="154.6" cy="93.2" r="1.25"/><circle cx="177.2" cy="111.3" r="1.25"/><circle cx="149.6" cy="109.2" r="1.25"/><circle cx="166.3" cy="104.4" r="1.25"/><circle cx="146.5" cy="99.5" r="1.25"/><circle cx="144.0" cy="96.7" r="1.25"/><circle cx="147.1" cy="95.5" r="1.25"/><circle cx="161.6" cy="104.8" r="1.25"/><circle cx="172.1" cy="93.0" r="1.25"/><circle cx="171.9" cy="106.0" r="1.25"/><circle cx="174.4" cy="110.0" r="1.25"/><circle cx="145.9" cy="107.2" r="1.25"/><circle cx="173.9" cy="114.5" r="1.25"/><circle cx="158.0" cy="108.5" r="1.25"/><circle cx="174.5" cy="94.4" r="1.25"/><circle cx="149.7" cy="102.6" r="1.25"/><circle cx="163.6" cy="97.4" r="1.25"/><circle cx="155.3" cy="111.1" r="1.25"/><circle cx="163.4" cy="93.6" r="1.25"/><circle cx="147.1" cy="110.8" r="1.25"/><circle cx="161.6" cy="110.8" r="1.25"/><circle cx="166.1" cy="92.9" r="1.25"/><circle cx="148.2" cy="99.7" r="1.25"/><circle cx="166.4" cy="92.2" r="1.25"/><circle cx="162.8" cy="98.6" r="1.25"/><circle cx="152.7" cy="101.1" r="1.25"/><circle cx="166.2" cy="98.1" r="1.25"/><circle cx="144.6" cy="102.7" r="1.25"/><circle cx="173.0" cy="115.2" r="1.25"/><circle cx="151.4" cy="112.4" r="1.25"/><circle cx="165.0" cy="103.3" r="1.25"/><circle cx="142.9" cy="98.3" r="1.25"/><circle cx="173.3" cy="101.1" r="1.25"/><circle cx="180.1" cy="103.2" r="1.25"/><circle cx="172.3" cy="94.7" r="1.25"/><circle cx="148.1" cy="99.3" r="1.25"/><circle cx="155.6" cy="107.8" r="1.25"/><circle cx="171.8" cy="104.4" r="1.25"/><circle cx="179.6" cy="114.5" r="1.25"/><circle cx="164.2" cy="113.5" r="1.25"/><circle cx="159.6" cy="106.7" r="1.25"/><circle cx="152.9" cy="105.3" r="1.25"/><circle cx="156.3" cy="90.4" r="1.25"/><circle cx="169.1" cy="98.7" r="1.25"/><circle cx="167.2" cy="105.2" r="1.25"/><circle cx="169.7" cy="112.5" r="1.25"/><circle cx="142.9" cy="94.0" r="1.25"/><circle cx="450.1" cy="47.4" r="1.25"/><circle cx="442.9" cy="56.9" r="1.25"/><circle cx="444.2" cy="58.4" r="1.25"/><circle cx="451.9" cy="46.5" r="1.25"/><circle cx="455.2" cy="56.0" r="1.25"/><circle cx="454.5" cy="56.6" r="1.25"/><circle cx="449.1" cy="55.5" r="1.25"/><circle cx="451.3" cy="55.7" r="1.25"/><circle cx="449.5" cy="58.8" r="1.25"/><circle cx="441.0" cy="54.6" r="1.25"/><circle cx="455.5" cy="56.8" r="1.25"/><circle cx="444.9" cy="47.7" r="1.25"/><circle cx="441.4" cy="55.2" r="1.25"/><circle cx="445.0" cy="55.6" r="1.25"/><circle cx="445.1" cy="55.5" r="1.25"/><circle cx="453.8" cy="48.8" r="1.25"/><circle cx="443.0" cy="48.9" r="1.25"/><circle cx="445.8" cy="56.2" r="1.25"/><circle cx="440.5" cy="54.8" r="1.25"/><circle cx="455.4" cy="53.7" r="1.25"/><circle cx="451.4" cy="48.8" r="1.25"/><circle cx="451.2" cy="52.7" r="1.25"/><circle cx="448.2" cy="57.3" r="1.25"/><circle cx="445.5" cy="58.1" r="1.25"/><circle cx="449.1" cy="48.2" r="1.25"/><circle cx="447.4" cy="54.4" r="1.25"/><circle cx="448.4" cy="47.8" r="1.25"/><circle cx="441.9" cy="48.3" r="1.25"/><circle cx="447.9" cy="46.7" r="1.25"/><circle cx="442.4" cy="46.7" r="1.25"/><circle cx="442.9" cy="48.4" r="1.25"/><circle cx="447.8" cy="48.6" r="1.25"/><circle cx="469.6" cy="44.0" r="1.25"/><circle cx="466.1" cy="42.1" r="1.25"/><circle cx="461.0" cy="41.7" r="1.25"/><circle cx="462.4" cy="55.2" r="1.25"/><circle cx="462.2" cy="51.6" r="1.25"/><circle cx="468.7" cy="49.1" r="1.25"/><circle cx="465.1" cy="55.0" r="1.25"/><circle cx="456.7" cy="46.2" r="1.25"/><circle cx="465.7" cy="46.9" r="1.25"/><circle cx="469.0" cy="49.0" r="1.25"/><circle cx="466.9" cy="44.2" r="1.25"/><circle cx="467.8" cy="48.0" r="1.25"/><circle cx="459.9" cy="43.4" r="1.25"/><circle cx="460.3" cy="41.9" r="1.25"/><circle cx="459.2" cy="48.0" r="1.25"/><circle cx="465.7" cy="49.4" r="1.25"/><circle cx="468.1" cy="45.8" r="1.25"/><circle cx="459.2" cy="53.8" r="1.25"/><circle cx="461.4" cy="44.1" r="1.25"/><circle cx="468.4" cy="52.3" r="1.25"/><circle cx="461.9" cy="48.7" r="1.25"/><circle cx="457.1" cy="46.7" r="1.25"/><circle cx="464.8" cy="55.8" r="1.25"/><circle cx="456.5" cy="53.7" r="1.25"/><circle cx="470.3" cy="49.4" r="1.25"/><circle cx="456.0" cy="50.9" r="1.25"/><circle cx="457.5" cy="50.2" r="1.25"/><circle cx="461.0" cy="47.6" r="1.25"/><circle cx="467.4" cy="48.7" r="1.25"/><circle cx="464.9" cy="45.1" r="1.25"/><circle cx="456.3" cy="48.8" r="1.25"/><circle cx="468.6" cy="43.2" r="1.25"/><circle cx="469.4" cy="51.1" r="1.25"/><circle cx="467.7" cy="50.2" r="1.25"/><circle cx="462.4" cy="42.6" r="1.25"/><circle cx="463.7" cy="44.9" r="1.25"/><circle cx="457.8" cy="51.1" r="1.25"/><circle cx="465.4" cy="47.5" r="1.25"/><circle cx="455.5" cy="52.0" r="1.25"/><circle cx="456.7" cy="44.4" r="1.25"/><circle cx="462.6" cy="49.4" r="1.25"/><circle cx="460.1" cy="44.4" r="1.25"/><circle cx="455.6" cy="44.9" r="1.25"/><circle cx="465.5" cy="47.0" r="1.25"/><circle cx="467.2" cy="56.2" r="1.25"/><circle cx="466.3" cy="48.1" r="1.25"/><circle cx="126.9" cy="243.7" r="1.25"/><circle cx="127.9" cy="242.4" r="1.25"/><circle cx="120.5" cy="233.7" r="1.25"/><circle cx="123.5" cy="230.2" r="1.25"/><circle cx="121.8" cy="243.9" r="1.25"/><circle cx="121.4" cy="241.7" r="1.25"/><circle cx="122.9" cy="243.3" r="1.25"/><circle cx="124.7" cy="232.5" r="1.25"/><circle cx="121.4" cy="231.8" r="1.25"/><circle cx="119.0" cy="241.8" r="1.25"/><circle cx="123.5" cy="231.2" r="1.25"/><circle cx="124.3" cy="235.0" r="1.25"/><circle cx="122.3" cy="234.3" r="1.25"/><circle cx="117.1" cy="236.5" r="1.25"/><circle cx="120.2" cy="233.2" r="1.25"/><circle cx="124.9" cy="244.3" r="1.25"/><circle cx="129.0" cy="238.8" r="1.25"/><circle cx="125.3" cy="243.0" r="1.25"/><circle cx="124.1" cy="239.5" r="1.25"/><circle cx="125.9" cy="244.4" r="1.25"/><circle cx="125.1" cy="233.4" r="1.25"/><circle cx="129.2" cy="233.0" r="1.25"/><circle cx="123.9" cy="238.2" r="1.25"/><circle cx="121.6" cy="238.8" r="1.25"/><circle cx="128.2" cy="236.2" r="1.25"/><circle cx="126.3" cy="231.1" r="1.25"/><circle cx="125.0" cy="241.1" r="1.25"/><circle cx="119.9" cy="233.9" r="1.25"/><circle cx="125.7" cy="236.0" r="1.25"/><circle cx="118.4" cy="242.9" r="1.25"/><circle cx="116.7" cy="241.3" r="1.25"/><circle cx="125.2" cy="237.3" r="1.25"/><circle cx="139.9" cy="246.8" r="1.25"/><circle cx="141.6" cy="249.4" r="1.25"/><circle cx="139.9" cy="256.6" r="1.25"/><circle cx="139.2" cy="256.7" r="1.25"/><circle cx="136.9" cy="263.7" r="1.25"/><circle cx="139.6" cy="250.7" r="1.25"/><circle cx="137.5" cy="255.9" r="1.25"/><circle cx="140.2" cy="255.6" r="1.25"/><circle cx="140.2" cy="254.1" r="1.25"/><circle cx="138.4" cy="257.1" r="1.25"/><circle cx="137.7" cy="247.1" r="1.25"/><circle cx="136.4" cy="244.6" r="1.25"/><circle cx="135.7" cy="245.6" r="1.25"/><circle cx="137.8" cy="256.9" r="1.25"/><circle cx="139.4" cy="250.4" r="1.25"/><circle cx="139.1" cy="252.8" r="1.25"/><circle cx="139.0" cy="253.1" r="1.25"/><circle cx="136.4" cy="264.5" r="1.25"/><circle cx="136.3" cy="258.6" r="1.25"/><circle cx="138.5" cy="245.1" r="1.25"/><circle cx="140.6" cy="252.0" r="1.25"/><circle cx="140.5" cy="257.4" r="1.25"/><circle cx="136.5" cy="243.8" r="1.25"/><circle cx="136.3" cy="264.3" r="1.25"/><circle cx="136.1" cy="247.6" r="1.25"/><circle cx="135.1" cy="242.7" r="1.25"/><circle cx="138.8" cy="256.9" r="1.25"/><circle cx="131.6" cy="240.2" r="1.25"/><circle cx="138.3" cy="242.5" r="1.25"/><circle cx="139.2" cy="252.9" r="1.25"/><circle cx="140.2" cy="254.8" r="1.25"/><circle cx="141.0" cy="258.6" r="1.25"/><circle cx="135.3" cy="260.0" r="1.25"/><circle cx="137.3" cy="242.7" r="1.25"/><circle cx="138.7" cy="245.1" r="1.25"/><circle cx="140.2" cy="260.0" r="1.25"/><circle cx="109.6" cy="251.2" r="1.25"/><circle cx="112.4" cy="245.2" r="1.25"/><circle cx="110.1" cy="248.6" r="1.25"/><circle cx="109.5" cy="253.8" r="1.25"/><circle cx="110.0" cy="253.5" r="1.25"/><circle cx="111.1" cy="253.4" r="1.25"/><circle cx="113.0" cy="246.5" r="1.25"/><circle cx="113.5" cy="245.8" r="1.25"/><circle cx="131.7" cy="267.0" r="1.25"/><circle cx="121.4" cy="260.6" r="1.25"/><circle cx="129.7" cy="255.8" r="1.25"/><circle cx="138.9" cy="261.5" r="1.25"/><circle cx="121.2" cy="260.2" r="1.25"/><circle cx="125.1" cy="263.6" r="1.25"/><circle cx="111.5" cy="262.3" r="1.25"/><circle cx="116.9" cy="262.9" r="1.25"/><circle cx="118.6" cy="268.8" r="1.25"/><circle cx="117.8" cy="269.2" r="1.25"/><circle cx="126.7" cy="263.1" r="1.25"/><circle cx="120.6" cy="267.8" r="1.25"/><circle cx="112.0" cy="259.9" r="1.25"/><circle cx="120.3" cy="263.8" r="1.25"/><circle cx="132.6" cy="261.6" r="1.25"/><circle cx="133.6" cy="262.8" r="1.25"/><circle cx="122.4" cy="265.4" r="1.25"/><circle cx="117.6" cy="260.3" r="1.25"/><circle cx="132.4" cy="259.5" r="1.25"/><circle cx="130.5" cy="268.7" r="1.25"/><circle cx="134.6" cy="257.5" r="1.25"/><circle cx="111.3" cy="263.3" r="1.25"/><circle cx="126.3" cy="258.6" r="1.25"/><circle cx="137.5" cy="263.9" r="1.25"/><circle cx="132.8" cy="264.1" r="1.25"/><circle cx="128.5" cy="262.0" r="1.25"/><circle cx="122.4" cy="264.4" r="1.25"/><circle cx="112.2" cy="259.4" r="1.25"/><circle cx="118.7" cy="256.9" r="1.25"/><circle cx="130.1" cy="262.7" r="1.25"/><circle cx="124.1" cy="260.2" r="1.25"/><circle cx="133.0" cy="256.6" r="1.25"/><circle cx="128.5" cy="258.3" r="1.25"/><circle cx="130.3" cy="259.5" r="1.25"/><circle cx="116.7" cy="262.4" r="1.25"/><circle cx="135.3" cy="257.0" r="1.25"/><circle cx="124.6" cy="267.2" r="1.25"/><circle cx="134.8" cy="260.8" r="1.25"/><circle cx="128.5" cy="255.5" r="1.25"/><circle cx="112.9" cy="260.9" r="1.25"/><circle cx="136.0" cy="259.6" r="1.25"/><circle cx="128.0" cy="260.1" r="1.25"/><circle cx="136.1" cy="257.0" r="1.25"/><circle cx="117.3" cy="261.1" r="1.25"/><circle cx="124.4" cy="260.5" r="1.25"/><circle cx="129.1" cy="254.9" r="1.25"/><circle cx="117.1" cy="259.7" r="1.25"/><circle cx="124.6" cy="260.5" r="1.25"/><circle cx="118.4" cy="261.5" r="1.25"/><circle cx="129.8" cy="267.1" r="1.25"/><circle cx="119.9" cy="258.8" r="1.25"/><circle cx="112.2" cy="257.5" r="1.25"/><circle cx="117.4" cy="261.3" r="1.25"/><circle cx="138.0" cy="261.9" r="1.25"/><circle cx="133.3" cy="268.6" r="1.25"/><circle cx="137.7" cy="258.0" r="1.25"/><circle cx="112.5" cy="257.6" r="1.25"/><circle cx="124.7" cy="266.9" r="1.25"/><circle cx="127.9" cy="260.5" r="1.25"/><circle cx="117.0" cy="262.2" r="1.25"/><circle cx="133.2" cy="262.4" r="1.25"/><circle cx="117.9" cy="256.8" r="1.25"/><circle cx="78.8" cy="286.7" r="1.25"/><circle cx="358.5" cy="273.5" r="1.25"/><circle cx="357.2" cy="274.4" r="1.25"/><circle cx="352.1" cy="290.7" r="1.25"/><circle cx="340.8" cy="278.9" r="1.25"/><circle cx="338.4" cy="288.7" r="1.25"/><circle cx="347.5" cy="290.1" r="1.25"/><circle cx="357.6" cy="279.2" r="1.25"/><circle cx="356.1" cy="281.1" r="1.25"/><circle cx="337.8" cy="289.0" r="1.25"/><circle cx="332.3" cy="285.2" r="1.25"/><circle cx="334.9" cy="288.6" r="1.25"/><circle cx="338.7" cy="280.6" r="1.25"/><circle cx="346.2" cy="288.8" r="1.25"/><circle cx="356.8" cy="284.2" r="1.25"/><circle cx="355.1" cy="285.9" r="1.25"/><circle cx="332.4" cy="283.9" r="1.25"/><circle cx="356.9" cy="280.1" r="1.25"/><circle cx="349.2" cy="291.2" r="1.25"/><circle cx="349.2" cy="290.5" r="1.25"/><circle cx="349.6" cy="291.2" r="1.25"/><circle cx="340.3" cy="288.1" r="1.25"/><circle cx="342.6" cy="289.5" r="1.25"/><circle cx="348.4" cy="289.5" r="1.25"/><circle cx="333.2" cy="285.4" r="1.25"/><circle cx="352.6" cy="288.5" r="1.25"/><circle cx="352.0" cy="288.7" r="1.25"/><circle cx="355.7" cy="277.1" r="1.25"/><circle cx="339.8" cy="289.5" r="1.25"/><circle cx="356.4" cy="277.8" r="1.25"/><circle cx="335.2" cy="279.6" r="1.25"/><circle cx="355.5" cy="282.1" r="1.25"/><circle cx="358.4" cy="276.0" r="1.25"/><circle cx="350.8" cy="289.2" r="1.25"/><circle cx="355.0" cy="282.7" r="1.25"/><circle cx="335.0" cy="285.7" r="1.25"/><circle cx="333.6" cy="284.1" r="1.25"/><circle cx="342.1" cy="288.7" r="1.25"/><circle cx="350.6" cy="290.3" r="1.25"/><circle cx="337.3" cy="279.5" r="1.25"/><circle cx="338.7" cy="279.5" r="1.25"/><circle cx="341.1" cy="291.4" r="1.25"/><circle cx="337.9" cy="281.2" r="1.25"/><circle cx="356.3" cy="288.5" r="1.25"/><circle cx="348.7" cy="290.0" r="1.25"/><circle cx="348.6" cy="290.7" r="1.25"/><circle cx="343.9" cy="291.1" r="1.25"/><circle cx="337.9" cy="287.4" r="1.25"/><circle cx="335.3" cy="287.5" r="1.25"/><circle cx="355.7" cy="281.9" r="1.25"/><circle cx="339.4" cy="279.0" r="1.25"/><circle cx="356.4" cy="284.8" r="1.25"/><circle cx="334.3" cy="286.3" r="1.25"/><circle cx="337.0" cy="281.0" r="1.25"/><circle cx="335.3" cy="287.7" r="1.25"/><circle cx="354.5" cy="288.0" r="1.25"/><circle cx="334.3" cy="288.4" r="1.25"/><circle cx="338.7" cy="278.5" r="1.25"/><circle cx="334.1" cy="286.3" r="1.25"/><circle cx="341.9" cy="289.8" r="1.25"/><circle cx="332.9" cy="282.1" r="1.25"/><circle cx="341.3" cy="289.2" r="1.25"/><circle cx="353.9" cy="289.0" r="1.25"/><circle cx="336.2" cy="279.7" r="1.25"/><circle cx="356.0" cy="285.9" r="1.25"/><circle cx="350.4" cy="289.1" r="1.25"/><circle cx="356.9" cy="277.1" r="1.25"/><circle cx="357.5" cy="277.4" r="1.25"/><circle cx="337.0" cy="278.6" r="1.25"/><circle cx="333.6" cy="286.3" r="1.25"/><circle cx="334.3" cy="280.5" r="1.25"/><circle cx="347.0" cy="291.3" r="1.25"/><circle cx="332.4" cy="284.0" r="1.25"/><circle cx="349.0" cy="289.9" r="1.25"/><circle cx="335.8" cy="282.1" r="1.25"/><circle cx="357.2" cy="281.7" r="1.25"/><circle cx="353.9" cy="287.5" r="1.25"/><circle cx="337.4" cy="289.2" r="1.25"/><circle cx="339.0" cy="278.8" r="1.25"/><circle cx="342.1" cy="289.2" r="1.25"/><circle cx="341.1" cy="290.5" r="1.25"/><circle cx="356.3" cy="286.3" r="1.25"/><circle cx="355.8" cy="280.5" r="1.25"/><circle cx="348.1" cy="289.8" r="1.25"/><circle cx="336.8" cy="279.1" r="1.25"/><circle cx="337.3" cy="280.4" r="1.25"/><circle cx="354.1" cy="287.3" r="1.25"/><circle cx="339.0" cy="277.8" r="1.25"/><circle cx="350.8" cy="290.6" r="1.25"/><circle cx="356.6" cy="276.6" r="1.25"/><circle cx="341.9" cy="276.9" r="1.25"/><circle cx="356.9" cy="284.4" r="1.25"/><circle cx="334.0" cy="287.7" r="1.25"/><circle cx="337.2" cy="287.6" r="1.25"/><circle cx="342.1" cy="291.2" r="1.25"/><circle cx="355.1" cy="281.8" r="1.25"/><circle cx="356.0" cy="282.5" r="1.25"/><circle cx="330.8" cy="283.0" r="1.25"/><circle cx="338.5" cy="288.8" r="1.25"/><circle cx="356.3" cy="287.3" r="1.25"/><circle cx="342.3" cy="289.7" r="1.25"/><circle cx="334.9" cy="287.3" r="1.25"/><circle cx="335.7" cy="279.3" r="1.25"/><circle cx="354.7" cy="280.4" r="1.25"/><circle cx="338.7" cy="290.3" r="1.25"/><circle cx="355.3" cy="282.3" r="1.25"/><circle cx="355.9" cy="280.3" r="1.25"/><circle cx="350.1" cy="290.9" r="1.25"/><circle cx="334.1" cy="281.7" r="1.25"/><circle cx="344.4" cy="289.8" r="1.25"/><circle cx="340.6" cy="289.0" r="1.25"/><circle cx="335.6" cy="281.1" r="1.25"/><circle cx="332.8" cy="282.2" r="1.25"/><circle cx="352.9" cy="287.5" r="1.25"/><circle cx="346.3" cy="290.8" r="1.25"/><circle cx="352.5" cy="287.8" r="1.25"/><circle cx="357.2" cy="281.3" r="1.25"/><circle cx="346.4" cy="289.9" r="1.25"/><circle cx="356.9" cy="284.5" r="1.25"/><circle cx="334.4" cy="285.1" r="1.25"/><circle cx="338.3" cy="279.0" r="1.25"/><circle cx="348.4" cy="290.1" r="1.25"/><circle cx="357.3" cy="283.5" r="1.25"/><circle cx="332.0" cy="281.8" r="1.25"/><circle cx="355.9" cy="284.8" r="1.25"/><circle cx="336.6" cy="279.6" r="1.25"/><circle cx="358.3" cy="273.7" r="1.25"/><circle cx="350.4" cy="279.5" r="1.25"/><circle cx="352.5" cy="278.1" r="1.25"/><circle cx="352.7" cy="278.8" r="1.25"/><circle cx="350.8" cy="279.7" r="1.25"/><circle cx="352.7" cy="278.2" r="1.25"/><circle cx="349.9" cy="279.8" r="1.25"/><circle cx="353.3" cy="278.3" r="1.25"/><circle cx="351.2" cy="279.9" r="1.25"/><circle cx="349.5" cy="278.9" r="1.25"/><circle cx="357.0" cy="280.2" r="1.25"/><circle cx="356.0" cy="282.0" r="1.25"/><circle cx="352.9" cy="279.3" r="1.25"/><circle cx="355.8" cy="284.2" r="1.25"/><circle cx="354.5" cy="280.4" r="1.25"/><circle cx="353.8" cy="277.8" r="1.25"/><circle cx="355.2" cy="281.0" r="1.25"/><circle cx="355.9" cy="279.3" r="1.25"/><circle cx="353.1" cy="279.5" r="1.25"/><circle cx="356.7" cy="283.0" r="1.25"/><circle cx="355.7" cy="284.9" r="1.25"/><circle cx="356.9" cy="278.0" r="1.25"/><circle cx="356.8" cy="275.1" r="1.25"/><circle cx="353.2" cy="284.2" r="1.25"/><circle cx="354.0" cy="283.9" r="1.25"/><circle cx="353.9" cy="282.5" r="1.25"/><circle cx="355.8" cy="275.4" r="1.25"/><circle cx="342.0" cy="290.5" r="1.25"/><circle cx="353.6" cy="289.9" r="1.25"/><circle cx="341.3" cy="289.0" r="1.25"/><circle cx="341.5" cy="291.3" r="1.25"/><circle cx="342.3" cy="291.3" r="1.25"/><circle cx="344.6" cy="291.1" r="1.25"/><circle cx="353.6" cy="289.9" r="1.25"/><circle cx="343.4" cy="290.3" r="1.25"/><circle cx="348.4" cy="289.5" r="1.25"/><circle cx="351.3" cy="288.6" r="1.25"/><circle cx="340.5" cy="289.4" r="1.25"/><circle cx="336.4" cy="289.8" r="1.25"/><circle cx="347.0" cy="290.1" r="1.25"/><circle cx="341.2" cy="290.9" r="1.25"/><circle cx="347.1" cy="291.5" r="1.25"/><circle cx="350.2" cy="291.1" r="1.25"/><circle cx="350.9" cy="289.9" r="1.25"/><circle cx="348.0" cy="289.6" r="1.25"/><circle cx="345.6" cy="290.3" r="1.25"/><circle cx="353.3" cy="290.7" r="1.25"/></g><g fill="#5318d8"><circle cx="36.5" cy="67.8" r="1.25"/><circle cx="41.0" cy="65.9" r="1.25"/><circle cx="42.9" cy="69.1" r="1.25"/><circle cx="48.6" cy="65.9" r="1.25"/><circle cx="47.4" cy="67.2" r="1.25"/><circle cx="49.5" cy="65.0" r="1.25"/><circle cx="39.7" cy="72.9" r="1.25"/><circle cx="41.5" cy="75.0" r="1.25"/><circle cx="42.9" cy="76.7" r="1.25"/><circle cx="44.5" cy="77.5" r="1.25"/><circle cx="39.7" cy="79.3" r="1.25"/><circle cx="46.1" cy="80.5" r="1.25"/><circle cx="47.5" cy="79.5" r="1.25"/><circle cx="34.6" cy="83.7" r="1.25"/><circle cx="37.8" cy="84.4" r="1.25"/><circle cx="36.0" cy="83.0" r="1.25"/><circle cx="41.6" cy="86.3" r="1.25"/><circle cx="44.8" cy="81.8" r="1.25"/><circle cx="35.1" cy="83.2" r="1.25"/><circle cx="41.5" cy="86.4" r="1.25"/><circle cx="38.5" cy="69.5" r="1.25"/><circle cx="43.5" cy="67.5" r="1.25"/><circle cx="40.5" cy="85.8" r="1.25"/><circle cx="64.6" cy="80.8" r="1.25"/><circle cx="65.8" cy="79.0" r="1.25"/><circle cx="67.0" cy="77.5" r="1.25"/><circle cx="68.2" cy="76.2" r="1.25"/><circle cx="69.3" cy="75.2" r="1.25"/><circle cx="70.4" cy="74.5" r="1.25"/><circle cx="83.3" cy="68.7" r="1.25"/><circle cx="83.3" cy="90.4" r="1.25"/><circle cx="86.6" cy="89.2" r="1.25"/><circle cx="88.5" cy="90.4" r="1.25"/><circle cx="90.5" cy="90.8" r="1.25"/><circle cx="95.5" cy="90.8" r="1.25"/><circle cx="97.0" cy="89.7" r="1.25"/><circle cx="98.5" cy="91.5" r="1.25"/><circle cx="100.0" cy="93.0" r="1.25"/><circle cx="101.5" cy="94.5" r="1.25"/><circle cx="102.2" cy="96.2" r="1.25"/><circle cx="99.5" cy="95.0" r="1.25"/><circle cx="97.0" cy="92.5" r="1.25"/><circle cx="111.0" cy="90.5" r="1.25"/><circle cx="112.5" cy="91.0" r="1.25"/><circle cx="114.5" cy="90.3" r="1.25"/><circle cx="117.0" cy="90.6" r="1.25"/><circle cx="118.7" cy="92.0" r="1.25"/><circle cx="101.3" cy="91.8" r="1.25"/><circle cx="92.4" cy="115.4" r="1.25"/><circle cx="94.5" cy="115.4" r="1.25"/><circle cx="138.8" cy="90.5" r="1.25"/><circle cx="140.7" cy="89.3" r="1.25"/><circle cx="159.6" cy="64.3" r="1.25"/><circle cx="161.0" cy="64.3" r="1.25"/><circle cx="156.1" cy="68.3" r="1.25"/><circle cx="157.9" cy="71.2" r="1.25"/><circle cx="158.8" cy="70.9" r="1.25"/><circle cx="151.8" cy="73.2" r="1.25"/><circle cx="160.0" cy="68.4" r="1.25"/><circle cx="161.7" cy="71.3" r="1.25"/><circle cx="157.1" cy="75.5" r="1.25"/><circle cx="155.9" cy="68.9" r="1.25"/><circle cx="160.8" cy="72.4" r="1.25"/><circle cx="153.2" cy="70.3" r="1.25"/><circle cx="159.6" cy="68.0" r="1.25"/><circle cx="158.7" cy="74.1" r="1.25"/><circle cx="153.9" cy="75.8" r="1.25"/><circle cx="149.6" cy="71.2" r="1.25"/><circle cx="157.0" cy="72.3" r="1.25"/><circle cx="160.8" cy="72.0" r="1.25"/><circle cx="154.0" cy="67.2" r="1.25"/><circle cx="151.9" cy="74.7" r="1.25"/><circle cx="152.6" cy="70.3" r="1.25"/><circle cx="156.8" cy="68.0" r="1.25"/><circle cx="165.4" cy="80.8" r="1.25"/><circle cx="167.9" cy="79.5" r="1.25"/><circle cx="161.5" cy="84.6" r="1.25"/><circle cx="160.3" cy="85.9" r="1.25"/><circle cx="167.3" cy="86.5" r="1.25"/><circle cx="172.4" cy="84.6" r="1.25"/><circle cx="174.3" cy="85.3" r="1.25"/><circle cx="178.1" cy="88.5" r="1.25"/><circle cx="177.5" cy="78.9" r="1.25"/><circle cx="179.0" cy="78.6" r="1.25"/><circle cx="180.5" cy="78.9" r="1.25"/><circle cx="181.9" cy="79.6" r="1.25"/><circle cx="162.3" cy="83.8" r="1.25"/><circle cx="165.5" cy="80.6" r="1.25"/><circle cx="172.5" cy="84.5" r="1.25"/><circle cx="178.5" cy="125.3" r="1.25"/><circle cx="177.2" cy="123.9" r="1.25"/><circle cx="173.2" cy="123.9" r="1.25"/><circle cx="184.6" cy="126.3" r="1.25"/><circle cx="183.0" cy="125.6" r="1.25"/><circle cx="179.7" cy="125.4" r="1.25"/><circle cx="174.2" cy="123.8" r="1.25"/><circle cx="182.6" cy="126.0" r="1.25"/><circle cx="455.5" cy="51.6" r="1.25"/><circle cx="439.5" cy="54.8" r="1.25"/><circle cx="444.2" cy="62.5" r="1.25"/><circle cx="444.2" cy="64.5" r="1.25"/><circle cx="444.6" cy="66.4" r="1.25"/><circle cx="458.8" cy="82.3" r="1.25"/><circle cx="457.5" cy="84.0" r="1.25"/><circle cx="459.5" cy="85.5" r="1.25"/><circle cx="457.0" cy="87.0" r="1.25"/><circle cx="455.0" cy="89.0" r="1.25"/><circle cx="452.5" cy="89.5" r="1.25"/><circle cx="460.0" cy="88.0" r="1.25"/><circle cx="461.0" cy="91.2" r="1.25"/><circle cx="449.9" cy="97.5" r="1.25"/><circle cx="451.0" cy="96.5" r="1.25"/><circle cx="452.5" cy="95.5" r="1.25"/><circle cx="449.0" cy="98.0" r="1.25"/><circle cx="455.8" cy="68.1" r="1.25"/><circle cx="452.6" cy="69.4" r="1.25"/><circle cx="453.0" cy="65.0" r="1.25"/><circle cx="452.5" cy="68.1" r="1.25"/><circle cx="451.4" cy="67.4" r="1.25"/><circle cx="456.1" cy="67.4" r="1.25"/><circle cx="453.2" cy="64.3" r="1.25"/><circle cx="449.7" cy="67.0" r="1.25"/><circle cx="452.9" cy="68.8" r="1.25"/><circle cx="450.9" cy="65.0" r="1.25"/><circle cx="450.9" cy="67.0" r="1.25"/><circle cx="455.4" cy="69.1" r="1.25"/><circle cx="449.7" cy="67.6" r="1.25"/><circle cx="456.5" cy="65.5" r="1.25"/><circle cx="456.6" cy="74.2" r="1.25"/><circle cx="456.2" cy="74.9" r="1.25"/><circle cx="457.0" cy="74.4" r="1.25"/><circle cx="454.7" cy="72.2" r="1.25"/><circle cx="456.2" cy="74.0" r="1.25"/><circle cx="459.3" cy="103.9" r="1.25"/><circle cx="463.2" cy="99.7" r="1.25"/><circle cx="461.2" cy="117.9" r="1.25"/><circle cx="461.0" cy="98.9" r="1.25"/><circle cx="459.2" cy="104.6" r="1.25"/><circle cx="463.3" cy="96.0" r="1.25"/><circle cx="461.1" cy="93.8" r="1.25"/><circle cx="460.8" cy="101.5" r="1.25"/><circle cx="458.2" cy="113.7" r="1.25"/><circle cx="462.5" cy="105.1" r="1.25"/><circle cx="462.3" cy="107.3" r="1.25"/><circle cx="460.0" cy="111.8" r="1.25"/><circle cx="460.3" cy="109.3" r="1.25"/><circle cx="462.9" cy="97.4" r="1.25"/><circle cx="462.0" cy="99.0" r="1.25"/><circle cx="462.7" cy="110.3" r="1.25"/><circle cx="458.2" cy="110.8" r="1.25"/><circle cx="461.5" cy="99.9" r="1.25"/><circle cx="461.5" cy="93.4" r="1.25"/><circle cx="462.3" cy="104.8" r="1.25"/><circle cx="459.0" cy="106.6" r="1.25"/><circle cx="461.5" cy="114.8" r="1.25"/><circle cx="462.7" cy="108.9" r="1.25"/><circle cx="463.1" cy="94.0" r="1.25"/><circle cx="462.8" cy="103.2" r="1.25"/><circle cx="460.2" cy="108.0" r="1.25"/><circle cx="458.3" cy="110.5" r="1.25"/><circle cx="462.4" cy="97.9" r="1.25"/><circle cx="470.2" cy="92.4" r="1.25"/><circle cx="469.6" cy="92.0" r="1.25"/><circle cx="470.7" cy="91.7" r="1.25"/><circle cx="468.3" cy="95.0" r="1.25"/><circle cx="467.9" cy="92.2" r="1.25"/><circle cx="473.5" cy="94.4" r="1.25"/><circle cx="472.2" cy="93.2" r="1.25"/><circle cx="471.1" cy="94.6" r="1.25"/><circle cx="471.3" cy="95.6" r="1.25"/><circle cx="467.2" cy="92.3" r="1.25"/><circle cx="474.7" cy="103.2" r="1.25"/><circle cx="468.6" cy="103.0" r="1.25"/><circle cx="476.3" cy="103.6" r="1.25"/><circle cx="465.0" cy="101.4" r="1.25"/><circle cx="472.7" cy="102.9" r="1.25"/><circle cx="471.2" cy="103.5" r="1.25"/><circle cx="469.4" cy="102.4" r="1.25"/><circle cx="470.3" cy="103.7" r="1.25"/><circle cx="479.0" cy="105.0" r="1.25"/><circle cx="392.4" cy="91.0" r="1.25"/><circle cx="36.2" cy="246.8" r="1.25"/><circle cx="41.5" cy="244.1" r="1.25"/><circle cx="35.8" cy="246.9" r="1.25"/><circle cx="38.5" cy="247.1" r="1.25"/><circle cx="43.3" cy="242.5" r="1.25"/><circle cx="41.2" cy="246.2" r="1.25"/><circle cx="42.0" cy="246.0" r="1.25"/><circle cx="39.7" cy="250.9" r="1.25"/><circle cx="42.9" cy="249.1" r="1.25"/><circle cx="45.7" cy="246.4" r="1.25"/><circle cx="42.7" cy="244.3" r="1.25"/><circle cx="37.1" cy="242.2" r="1.25"/><circle cx="43.9" cy="249.3" r="1.25"/><circle cx="40.2" cy="247.9" r="1.25"/><circle cx="36.4" cy="247.7" r="1.25"/><circle cx="35.5" cy="247.4" r="1.25"/><circle cx="60.1" cy="237.0" r="1.25"/><circle cx="61.1" cy="238.1" r="1.25"/><circle cx="58.6" cy="238.2" r="1.25"/><circle cx="56.8" cy="237.6" r="1.25"/><circle cx="59.9" cy="241.5" r="1.25"/><circle cx="61.4" cy="238.7" r="1.25"/><circle cx="57.5" cy="237.0" r="1.25"/><circle cx="60.5" cy="238.4" r="1.25"/><circle cx="61.4" cy="242.1" r="1.25"/><circle cx="64.0" cy="252.2" r="1.25"/><circle cx="62.1" cy="255.6" r="1.25"/><circle cx="64.5" cy="252.0" r="1.25"/><circle cx="64.7" cy="252.1" r="1.25"/><circle cx="59.2" cy="243.7" r="1.25"/><circle cx="63.8" cy="251.0" r="1.25"/><circle cx="63.8" cy="254.4" r="1.25"/><circle cx="60.4" cy="245.8" r="1.25"/><circle cx="55.4" cy="256.5" r="1.25"/><circle cx="44.3" cy="255.4" r="1.25"/><circle cx="54.3" cy="257.3" r="1.25"/><circle cx="43.0" cy="258.1" r="1.25"/><circle cx="54.7" cy="255.0" r="1.25"/><circle cx="61.3" cy="258.0" r="1.25"/><circle cx="46.9" cy="254.8" r="1.25"/><circle cx="58.3" cy="257.9" r="1.25"/><circle cx="62.1" cy="258.9" r="1.25"/><circle cx="55.2" cy="255.9" r="1.25"/><circle cx="57.5" cy="255.3" r="1.25"/><circle cx="53.1" cy="256.3" r="1.25"/><circle cx="45.9" cy="254.8" r="1.25"/><circle cx="50.0" cy="242.0" r="1.25"/><circle cx="52.0" cy="242.5" r="1.25"/><circle cx="51.0" cy="252.0" r="1.25"/><circle cx="53.0" cy="254.0" r="1.25"/><circle cx="56.0" cy="250.5" r="1.25"/><circle cx="48.3" cy="265.5" r="1.25"/><circle cx="109.0" cy="221.5" r="1.25"/><circle cx="109.0" cy="223.0" r="1.25"/><circle cx="109.0" cy="224.7" r="1.25"/><circle cx="93.0" cy="234.5" r="1.25"/><circle cx="95.0" cy="234.0" r="1.25"/><circle cx="97.0" cy="234.5" r="1.25"/><circle cx="99.0" cy="234.0" r="1.25"/><circle cx="100.5" cy="233.5" r="1.25"/><circle cx="103.0" cy="231.5" r="1.25"/><circle cx="102.0" cy="232.5" r="1.25"/><circle cx="101.0" cy="230.5" r="1.25"/><circle cx="101.5" cy="237.0" r="1.25"/><circle cx="102.5" cy="239.0" r="1.25"/><circle cx="101.0" cy="241.0" r="1.25"/><circle cx="102.0" cy="243.0" r="1.25"/><circle cx="101.5" cy="245.5" r="1.25"/><circle cx="102.5" cy="247.0" r="1.25"/><circle cx="101.0" cy="249.5" r="1.25"/><circle cx="99.5" cy="247.0" r="1.25"/><circle cx="99.0" cy="243.0" r="1.25"/><circle cx="97.0" cy="239.0" r="1.25"/><circle cx="98.5" cy="236.5" r="1.25"/><circle cx="98.0" cy="252.0" r="1.25"/><circle cx="97.0" cy="255.0" r="1.25"/><circle cx="92.0" cy="258.0" r="1.25"/><circle cx="94.0" cy="257.5" r="1.25"/><circle cx="96.5" cy="258.0" r="1.25"/><circle cx="99.0" cy="259.0" r="1.25"/><circle cx="97.5" cy="261.0" r="1.25"/><circle cx="95.0" cy="262.0" r="1.25"/><circle cx="92.5" cy="263.5" r="1.25"/><circle cx="90.5" cy="262.9" r="1.25"/><circle cx="96.0" cy="265.0" r="1.25"/><circle cx="98.5" cy="266.0" r="1.25"/><circle cx="100.7" cy="268.0" r="1.25"/><circle cx="97.0" cy="269.0" r="1.25"/><circle cx="94.0" cy="271.0" r="1.25"/><circle cx="96.5" cy="272.0" r="1.25"/><circle cx="99.0" cy="271.0" r="1.25"/><circle cx="101.5" cy="271.5" r="1.25"/><circle cx="93.0" cy="267.0" r="1.25"/><circle cx="62.0" cy="241.9" r="1.25"/><circle cx="64.5" cy="249.5" r="1.25"/><circle cx="62.5" cy="253.4" r="1.25"/><circle cx="62.0" cy="257.2" r="1.25"/><circle cx="63.0" cy="245.5" r="1.25"/><circle cx="70.2" cy="287.0" r="1.25"/><circle cx="71.0" cy="289.0" r="1.25"/><circle cx="72.0" cy="291.0" r="1.25"/><circle cx="70.5" cy="288.5" r="1.25"/><circle cx="75.9" cy="290.9" r="1.25"/><circle cx="79.7" cy="292.8" r="1.25"/><circle cx="81.0" cy="294.5" r="1.25"/><circle cx="82.3" cy="296.0" r="1.25"/><circle cx="82.7" cy="291.5" r="1.25"/><circle cx="325.3" cy="259.6" r="1.25"/><circle cx="317.9" cy="258.2" r="1.25"/><circle cx="334.1" cy="258.6" r="1.25"/><circle cx="322.3" cy="258.3" r="1.25"/><circle cx="329.4" cy="258.2" r="1.25"/><circle cx="328.1" cy="258.6" r="1.25"/><circle cx="320.9" cy="259.4" r="1.25"/><circle cx="315.4" cy="258.6" r="1.25"/><circle cx="317.3" cy="259.0" r="1.25"/><circle cx="321.6" cy="259.4" r="1.25"/><circle cx="331.1" cy="258.8" r="1.25"/><circle cx="324.8" cy="259.1" r="1.25"/><circle cx="326.5" cy="259.5" r="1.25"/><circle cx="319.0" cy="259.8" r="1.25"/><circle cx="328.8" cy="259.5" r="1.25"/><circle cx="320.6" cy="257.7" r="1.25"/><circle cx="325.7" cy="258.4" r="1.25"/><circle cx="328.7" cy="258.2" r="1.25"/><circle cx="333.0" cy="259.9" r="1.25"/><circle cx="319.5" cy="259.1" r="1.25"/><circle cx="334.3" cy="259.3" r="1.25"/><circle cx="328.9" cy="258.5" r="1.25"/><circle cx="327.8" cy="259.5" r="1.25"/><circle cx="329.7" cy="258.1" r="1.25"/><circle cx="314.9" cy="258.5" r="1.25"/><circle cx="315.0" cy="259.6" r="1.25"/><circle cx="321.4" cy="258.2" r="1.25"/><circle cx="329.4" cy="257.9" r="1.25"/><circle cx="321.7" cy="259.5" r="1.25"/><circle cx="333.0" cy="259.4" r="1.25"/><circle cx="328.6" cy="259.1" r="1.25"/><circle cx="319.2" cy="258.2" r="1.25"/><circle cx="328.6" cy="258.7" r="1.25"/><circle cx="332.7" cy="258.9" r="1.25"/><circle cx="320.7" cy="259.0" r="1.25"/><circle cx="319.2" cy="258.6" r="1.25"/><circle cx="324.4" cy="258.0" r="1.25"/><circle cx="314.9" cy="259.4" r="1.25"/><circle cx="317.6" cy="259.7" r="1.25"/><circle cx="335.3" cy="259.0" r="1.25"/><circle cx="317.2" cy="259.3" r="1.25"/><circle cx="316.0" cy="260.4" r="1.25"/><circle cx="332.8" cy="262.3" r="1.25"/><circle cx="330.2" cy="262.0" r="1.25"/><circle cx="327.6" cy="268.2" r="1.25"/><circle cx="335.8" cy="266.4" r="1.25"/><circle cx="333.0" cy="261.3" r="1.25"/><circle cx="325.8" cy="267.3" r="1.25"/><circle cx="327.0" cy="267.5" r="1.25"/><circle cx="325.4" cy="268.0" r="1.25"/><circle cx="333.6" cy="265.9" r="1.25"/><circle cx="328.1" cy="261.9" r="1.25"/><circle cx="323.9" cy="262.4" r="1.25"/><circle cx="320.7" cy="265.1" r="1.25"/><circle cx="334.6" cy="264.2" r="1.25"/><circle cx="329.0" cy="260.6" r="1.25"/><circle cx="332.6" cy="261.3" r="1.25"/><circle cx="328.2" cy="267.5" r="1.25"/><circle cx="321.2" cy="263.8" r="1.25"/><circle cx="320.4" cy="265.5" r="1.25"/><circle cx="322.4" cy="267.6" r="1.25"/><circle cx="323.4" cy="266.3" r="1.25"/><circle cx="320.8" cy="265.0" r="1.25"/><circle cx="334.7" cy="263.5" r="1.25"/><circle cx="333.3" cy="262.0" r="1.25"/><circle cx="321.8" cy="267.4" r="1.25"/><circle cx="333.3" cy="267.1" r="1.25"/><circle cx="330.7" cy="267.6" r="1.25"/><circle cx="327.4" cy="267.4" r="1.25"/><circle cx="329.4" cy="267.2" r="1.25"/><circle cx="321.1" cy="264.0" r="1.25"/><circle cx="322.8" cy="262.4" r="1.25"/><circle cx="334.5" cy="266.8" r="1.25"/><circle cx="321.6" cy="265.0" r="1.25"/><circle cx="332.8" cy="266.6" r="1.25"/><circle cx="324.9" cy="267.3" r="1.25"/><circle cx="321.7" cy="267.1" r="1.25"/><circle cx="327.9" cy="261.6" r="1.25"/><circle cx="328.2" cy="267.4" r="1.25"/><circle cx="322.1" cy="264.6" r="1.25"/><circle cx="336.9" cy="267.0" r="1.25"/><circle cx="339.2" cy="262.3" r="1.25"/><circle cx="335.9" cy="268.4" r="1.25"/><circle cx="336.7" cy="269.8" r="1.25"/><circle cx="342.4" cy="258.1" r="1.25"/><circle cx="340.7" cy="262.1" r="1.25"/><circle cx="341.7" cy="261.4" r="1.25"/><circle cx="336.2" cy="270.2" r="1.25"/><circle cx="336.2" cy="268.2" r="1.25"/><circle cx="340.8" cy="260.0" r="1.25"/><circle cx="336.8" cy="266.9" r="1.25"/><circle cx="341.8" cy="259.5" r="1.25"/><circle cx="337.2" cy="266.6" r="1.25"/><circle cx="337.2" cy="268.0" r="1.25"/><circle cx="339.8" cy="262.1" r="1.25"/><circle cx="336.9" cy="268.3" r="1.25"/><circle cx="337.9" cy="266.5" r="1.25"/><circle cx="336.8" cy="265.9" r="1.25"/><circle cx="336.5" cy="260.3" r="1.25"/><circle cx="337.6" cy="261.1" r="1.25"/><circle cx="337.8" cy="262.9" r="1.25"/><circle cx="336.3" cy="260.7" r="1.25"/><circle cx="337.0" cy="260.9" r="1.25"/><circle cx="344.0" cy="260.5" r="1.25"/><circle cx="347.1" cy="261.3" r="1.25"/><circle cx="342.7" cy="258.4" r="1.25"/><circle cx="344.5" cy="261.1" r="1.25"/><circle cx="342.3" cy="258.9" r="1.25"/><circle cx="347.7" cy="262.1" r="1.25"/><circle cx="344.6" cy="259.1" r="1.25"/><circle cx="346.1" cy="262.1" r="1.25"/><circle cx="354.8" cy="264.2" r="1.25"/><circle cx="349.7" cy="263.1" r="1.25"/><circle cx="349.7" cy="263.0" r="1.25"/><circle cx="347.1" cy="261.8" r="1.25"/><circle cx="349.4" cy="263.2" r="1.25"/><circle cx="349.7" cy="263.6" r="1.25"/><circle cx="352.2" cy="263.4" r="1.25"/><circle cx="349.9" cy="263.2" r="1.25"/><circle cx="345.9" cy="261.7" r="1.25"/><circle cx="352.7" cy="263.8" r="1.25"/><circle cx="345.3" cy="260.9" r="1.25"/><circle cx="350.6" cy="264.2" r="1.25"/><circle cx="348.1" cy="262.0" r="1.25"/><circle cx="350.5" cy="263.4" r="1.25"/><circle cx="345.6" cy="260.9" r="1.25"/><circle cx="346.1" cy="260.5" r="1.25"/><circle cx="353.0" cy="263.6" r="1.25"/><circle cx="355.4" cy="265.3" r="1.25"/></g><g fill="#e5122a"><circle cx="115.1" cy="30.9" r="1.25"/><circle cx="116.2" cy="27.2" r="1.25"/><circle cx="103.3" cy="28.3" r="1.25"/><circle cx="104.6" cy="33.3" r="1.25"/><circle cx="103.9" cy="26.7" r="1.25"/><circle cx="111.3" cy="21.2" r="1.25"/><circle cx="111.7" cy="33.1" r="1.25"/><circle cx="100.6" cy="30.2" r="1.25"/><circle cx="110.5" cy="26.6" r="1.25"/><circle cx="107.6" cy="31.3" r="1.25"/><circle cx="105.5" cy="23.8" r="1.25"/><circle cx="111.6" cy="21.8" r="1.25"/><circle cx="109.6" cy="23.9" r="1.25"/><circle cx="110.1" cy="27.0" r="1.25"/><circle cx="108.7" cy="21.7" r="1.25"/><circle cx="108.7" cy="33.9" r="1.25"/><circle cx="106.5" cy="30.1" r="1.25"/><circle cx="102.1" cy="28.7" r="1.25"/><circle cx="115.8" cy="28.6" r="1.25"/><circle cx="114.3" cy="21.8" r="1.25"/><circle cx="109.0" cy="25.9" r="1.25"/><circle cx="102.5" cy="25.7" r="1.25"/><circle cx="111.6" cy="22.3" r="1.25"/><circle cx="105.9" cy="34.5" r="1.25"/><circle cx="107.8" cy="33.6" r="1.25"/><circle cx="110.6" cy="33.4" r="1.25"/><circle cx="105.1" cy="33.2" r="1.25"/><circle cx="103.3" cy="30.0" r="1.25"/><circle cx="117.1" cy="24.6" r="1.25"/><circle cx="107.7" cy="26.7" r="1.25"/><circle cx="107.3" cy="21.8" r="1.25"/><circle cx="111.9" cy="28.3" r="1.25"/><circle cx="110.7" cy="27.9" r="1.25"/><circle cx="108.9" cy="24.1" r="1.25"/><circle cx="108.2" cy="27.7" r="1.25"/><circle cx="114.4" cy="25.6" r="1.25"/><circle cx="108.9" cy="25.0" r="1.25"/><circle cx="110.9" cy="28.5" r="1.25"/><circle cx="117.2" cy="29.3" r="1.25"/><circle cx="105.0" cy="23.4" r="1.25"/><circle cx="103.4" cy="31.0" r="1.25"/><circle cx="104.4" cy="26.5" r="1.25"/><circle cx="107.2" cy="30.6" r="1.25"/><circle cx="106.2" cy="34.8" r="1.25"/><circle cx="110.7" cy="25.1" r="1.25"/><circle cx="135.2" cy="19.0" r="1.25"/><circle cx="126.6" cy="26.2" r="1.25"/><circle cx="127.2" cy="24.5" r="1.25"/><circle cx="136.0" cy="22.8" r="1.25"/><circle cx="134.2" cy="26.4" r="1.25"/><circle cx="133.1" cy="25.5" r="1.25"/><circle cx="136.4" cy="28.3" r="1.25"/><circle cx="124.4" cy="23.0" r="1.25"/><circle cx="140.3" cy="24.2" r="1.25"/><circle cx="134.9" cy="23.1" r="1.25"/><circle cx="124.3" cy="28.5" r="1.25"/><circle cx="127.7" cy="30.1" r="1.25"/><circle cx="137.3" cy="24.6" r="1.25"/><circle cx="129.3" cy="19.7" r="1.25"/><circle cx="121.9" cy="28.7" r="1.25"/><circle cx="133.2" cy="25.5" r="1.25"/><circle cx="131.7" cy="19.8" r="1.25"/><circle cx="132.5" cy="21.7" r="1.25"/><circle cx="121.8" cy="30.6" r="1.25"/><circle cx="125.8" cy="27.2" r="1.25"/><circle cx="136.1" cy="29.1" r="1.25"/><circle cx="123.8" cy="23.7" r="1.25"/><circle cx="129.5" cy="25.0" r="1.25"/><circle cx="126.1" cy="25.2" r="1.25"/><circle cx="126.8" cy="27.6" r="1.25"/><circle cx="129.9" cy="25.8" r="1.25"/><circle cx="126.0" cy="29.6" r="1.25"/><circle cx="131.9" cy="25.8" r="1.25"/><circle cx="130.4" cy="19.2" r="1.25"/><circle cx="135.1" cy="28.2" r="1.25"/><circle cx="122.5" cy="28.2" r="1.25"/><circle cx="127.4" cy="24.8" r="1.25"/><circle cx="123.5" cy="27.4" r="1.25"/><circle cx="124.3" cy="30.6" r="1.25"/><circle cx="136.3" cy="20.8" r="1.25"/><circle cx="126.8" cy="30.7" r="1.25"/><circle cx="133.2" cy="22.8" r="1.25"/><circle cx="127.4" cy="29.6" r="1.25"/><circle cx="132.3" cy="25.6" r="1.25"/><circle cx="139.7" cy="23.1" r="1.25"/><circle cx="139.1" cy="26.7" r="1.25"/><circle cx="136.3" cy="29.9" r="1.25"/><circle cx="127.9" cy="25.2" r="1.25"/><circle cx="125.7" cy="32.3" r="1.25"/><circle cx="134.2" cy="19.7" r="1.25"/><circle cx="130.4" cy="20.9" r="1.25"/><circle cx="130.1" cy="24.0" r="1.25"/><circle cx="124.7" cy="32.1" r="1.25"/><circle cx="137.6" cy="27.3" r="1.25"/><circle cx="133.8" cy="31.9" r="1.25"/><circle cx="140.0" cy="21.9" r="1.25"/><circle cx="138.3" cy="24.0" r="1.25"/><circle cx="129.5" cy="30.7" r="1.25"/><circle cx="138.2" cy="20.2" r="1.25"/><circle cx="128.3" cy="31.0" r="1.25"/><circle cx="120.0" cy="36.5" r="1.25"/><circle cx="122.0" cy="37.2" r="1.25"/><circle cx="118.0" cy="33.0" r="1.25"/><circle cx="121.0" cy="22.0" r="1.25"/><circle cx="117.0" cy="25.0" r="1.25"/><circle cx="25.7" cy="75.2" r="1.25"/><circle cx="43.2" cy="94.3" r="1.25"/><circle cx="113.4" cy="122.1" r="1.25"/><circle cx="124.2" cy="121.1" r="1.25"/><circle cx="155.4" cy="103.9" r="1.25"/><circle cx="158.5" cy="117.3" r="1.25"/><circle cx="165.5" cy="120.8" r="1.25"/><circle cx="167.5" cy="120.5" r="1.25"/><circle cx="170.0" cy="120.6" r="1.25"/><circle cx="171.8" cy="120.7" r="1.25"/><circle cx="176.3" cy="119.2" r="1.25"/><circle cx="178.0" cy="119.0" r="1.25"/><circle cx="189.6" cy="106.5" r="1.25"/><circle cx="188.1" cy="113.7" r="1.25"/><circle cx="194.7" cy="109.9" r="1.25"/><circle cx="196.6" cy="112.8" r="1.25"/><circle cx="204.9" cy="117.9" r="1.25"/><circle cx="205.9" cy="89.5" r="1.25"/><circle cx="203.6" cy="95.9" r="1.25"/><circle cx="205.5" cy="95.9" r="1.25"/><circle cx="207.5" cy="95.9" r="1.25"/><circle cx="195.5" cy="111.2" r="1.25"/><circle cx="319.1" cy="40.2" r="1.25"/><circle cx="330.7" cy="25.4" r="1.25"/><circle cx="320.7" cy="25.6" r="1.25"/><circle cx="317.7" cy="31.6" r="1.25"/><circle cx="316.0" cy="32.3" r="1.25"/><circle cx="332.4" cy="27.2" r="1.25"/><circle cx="322.8" cy="22.0" r="1.25"/><circle cx="321.2" cy="23.0" r="1.25"/><circle cx="315.3" cy="36.0" r="1.25"/><circle cx="318.6" cy="40.1" r="1.25"/><circle cx="317.6" cy="31.4" r="1.25"/><circle cx="321.8" cy="22.8" r="1.25"/><circle cx="319.1" cy="40.2" r="1.25"/><circle cx="326.7" cy="22.4" r="1.25"/><circle cx="323.9" cy="22.0" r="1.25"/><circle cx="319.0" cy="27.0" r="1.25"/><circle cx="330.9" cy="24.7" r="1.25"/><circle cx="316.6" cy="30.6" r="1.25"/><circle cx="328.9" cy="22.7" r="1.25"/><circle cx="331.5" cy="26.2" r="1.25"/><circle cx="325.5" cy="22.0" r="1.25"/><circle cx="316.7" cy="35.7" r="1.25"/><circle cx="330.2" cy="25.0" r="1.25"/><circle cx="321.6" cy="23.0" r="1.25"/><circle cx="317.3" cy="30.9" r="1.25"/><circle cx="316.0" cy="31.6" r="1.25"/><circle cx="328.2" cy="23.1" r="1.25"/><circle cx="322.4" cy="40.0" r="1.25"/><circle cx="330.3" cy="24.5" r="1.25"/><circle cx="317.5" cy="38.7" r="1.25"/><circle cx="317.7" cy="27.9" r="1.25"/><circle cx="321.7" cy="39.8" r="1.25"/><circle cx="315.4" cy="35.6" r="1.25"/><circle cx="316.9" cy="36.4" r="1.25"/><circle cx="336.6" cy="31.8" r="1.25"/><circle cx="334.4" cy="35.7" r="1.25"/><circle cx="333.8" cy="32.0" r="1.25"/><circle cx="333.8" cy="33.4" r="1.25"/><circle cx="334.3" cy="33.4" r="1.25"/><circle cx="334.1" cy="32.1" r="1.25"/><circle cx="336.0" cy="35.3" r="1.25"/><circle cx="335.3" cy="31.8" r="1.25"/><circle cx="337.1" cy="34.6" r="1.25"/><circle cx="335.3" cy="34.0" r="1.25"/><circle cx="336.4" cy="30.9" r="1.25"/><circle cx="335.7" cy="28.6" r="1.25"/><circle cx="341.3" cy="32.3" r="1.25"/><circle cx="331.1" cy="36.7" r="1.25"/><circle cx="325.5" cy="22.2" r="1.25"/><circle cx="327.0" cy="22.8" r="1.25"/><circle cx="428.1" cy="23.9" r="1.25"/><circle cx="419.8" cy="32.2" r="1.25"/><circle cx="423.3" cy="30.7" r="1.25"/><circle cx="420.5" cy="41.1" r="1.25"/><circle cx="431.9" cy="38.1" r="1.25"/><circle cx="431.5" cy="38.4" r="1.25"/><circle cx="429.6" cy="35.7" r="1.25"/><circle cx="430.5" cy="36.9" r="1.25"/><circle cx="438.2" cy="35.3" r="1.25"/><circle cx="439.1" cy="36.3" r="1.25"/><circle cx="438.9" cy="36.8" r="1.25"/><circle cx="438.2" cy="34.7" r="1.25"/><circle cx="439.2" cy="37.8" r="1.25"/><circle cx="440.3" cy="48.6" r="1.25"/><circle cx="437.5" cy="45.2" r="1.25"/><circle cx="432.3" cy="39.2" r="1.25"/><circle cx="439.4" cy="47.9" r="1.25"/><circle cx="438.3" cy="46.2" r="1.25"/><circle cx="433.7" cy="41.2" r="1.25"/><circle cx="431.8" cy="39.1" r="1.25"/><circle cx="445.4" cy="106.0" r="1.25"/><circle cx="443.5" cy="105.2" r="1.25"/><circle cx="441.7" cy="103.2" r="1.25"/><circle cx="442.8" cy="104.6" r="1.25"/><circle cx="61.1" cy="265.5" r="1.25"/><circle cx="159.1" cy="257.5" r="1.25"/><circle cx="196.9" cy="266.7" r="1.25"/><circle cx="206.5" cy="264.5" r="1.25"/><circle cx="186.8" cy="286.8" r="1.25"/><circle cx="183.7" cy="278.1" r="1.25"/><circle cx="201.4" cy="291.1" r="1.25"/><circle cx="187.3" cy="279.3" r="1.25"/><circle cx="187.0" cy="280.4" r="1.25"/><circle cx="190.5" cy="294.5" r="1.25"/><circle cx="207.4" cy="276.2" r="1.25"/><circle cx="204.5" cy="283.3" r="1.25"/><circle cx="192.9" cy="291.1" r="1.25"/><circle cx="205.3" cy="281.6" r="1.25"/><circle cx="203.3" cy="259.6" r="1.25"/><circle cx="200.3" cy="261.7" r="1.25"/><circle cx="184.8" cy="276.1" r="1.25"/><circle cx="198.1" cy="296.2" r="1.25"/><circle cx="205.1" cy="269.5" r="1.25"/><circle cx="205.0" cy="278.9" r="1.25"/><circle cx="204.1" cy="274.1" r="1.25"/><circle cx="187.1" cy="276.9" r="1.25"/><circle cx="206.6" cy="275.4" r="1.25"/><circle cx="204.4" cy="288.7" r="1.25"/><circle cx="202.6" cy="282.7" r="1.25"/><circle cx="203.1" cy="269.8" r="1.25"/><circle cx="208.5" cy="269.8" r="1.25"/><circle cx="198.8" cy="289.9" r="1.25"/><circle cx="195.7" cy="293.3" r="1.25"/><circle cx="198.7" cy="286.0" r="1.25"/><circle cx="209.3" cy="271.4" r="1.25"/><circle cx="205.0" cy="280.2" r="1.25"/><circle cx="202.2" cy="285.0" r="1.25"/><circle cx="203.4" cy="268.3" r="1.25"/><circle cx="203.5" cy="288.4" r="1.25"/><circle cx="198.5" cy="258.7" r="1.25"/><circle cx="188.4" cy="274.6" r="1.25"/><circle cx="205.7" cy="281.6" r="1.25"/><circle cx="203.4" cy="288.6" r="1.25"/><circle cx="190.2" cy="295.7" r="1.25"/><circle cx="189.1" cy="277.6" r="1.25"/><circle cx="189.6" cy="270.6" r="1.25"/><circle cx="203.4" cy="292.7" r="1.25"/><circle cx="189.1" cy="276.0" r="1.25"/><circle cx="185.8" cy="275.0" r="1.25"/><circle cx="197.8" cy="267.7" r="1.25"/><circle cx="186.7" cy="292.8" r="1.25"/><circle cx="201.3" cy="268.6" r="1.25"/><circle cx="193.5" cy="293.1" r="1.25"/><circle cx="197.6" cy="289.9" r="1.25"/><circle cx="196.9" cy="294.2" r="1.25"/><circle cx="183.6" cy="274.6" r="1.25"/><circle cx="193.2" cy="289.8" r="1.25"/><circle cx="203.0" cy="280.1" r="1.25"/><circle cx="207.0" cy="283.5" r="1.25"/><circle cx="191.0" cy="262.4" r="1.25"/><circle cx="188.1" cy="268.3" r="1.25"/><circle cx="203.2" cy="279.9" r="1.25"/><circle cx="184.3" cy="289.8" r="1.25"/><circle cx="189.5" cy="283.9" r="1.25"/><circle cx="199.7" cy="292.4" r="1.25"/><circle cx="209.9" cy="279.7" r="1.25"/><circle cx="186.0" cy="283.6" r="1.25"/><circle cx="203.1" cy="284.7" r="1.25"/><circle cx="192.1" cy="293.2" r="1.25"/><circle cx="207.2" cy="282.2" r="1.25"/><circle cx="201.9" cy="282.8" r="1.25"/><circle cx="205.8" cy="271.4" r="1.25"/><circle cx="186.7" cy="270.8" r="1.25"/><circle cx="186.2" cy="274.3" r="1.25"/><circle cx="191.0" cy="265.1" r="1.25"/><circle cx="188.4" cy="283.8" r="1.25"/><circle cx="203.1" cy="274.2" r="1.25"/><circle cx="202.1" cy="290.5" r="1.25"/><circle cx="189.2" cy="287.5" r="1.25"/><circle cx="193.4" cy="270.9" r="1.25"/><circle cx="201.1" cy="268.6" r="1.25"/><circle cx="196.2" cy="263.8" r="1.25"/><circle cx="195.2" cy="291.6" r="1.25"/><circle cx="192.8" cy="290.7" r="1.25"/><circle cx="193.8" cy="264.3" r="1.25"/><circle cx="205.6" cy="281.3" r="1.25"/><circle cx="202.8" cy="270.7" r="1.25"/><circle cx="185.9" cy="291.0" r="1.25"/><circle cx="206.6" cy="270.4" r="1.25"/><circle cx="194.3" cy="269.5" r="1.25"/><circle cx="204.3" cy="265.3" r="1.25"/><circle cx="206.4" cy="263.6" r="1.25"/><circle cx="189.4" cy="276.0" r="1.25"/><circle cx="184.5" cy="278.0" r="1.25"/><circle cx="202.1" cy="269.6" r="1.25"/><circle cx="196.9" cy="288.2" r="1.25"/><circle cx="194.2" cy="296.0" r="1.25"/><circle cx="189.4" cy="288.0" r="1.25"/><circle cx="187.8" cy="293.4" r="1.25"/><circle cx="190.7" cy="285.9" r="1.25"/><circle cx="196.8" cy="262.2" r="1.25"/><circle cx="204.5" cy="279.0" r="1.25"/><circle cx="195.9" cy="290.4" r="1.25"/><circle cx="193.2" cy="295.9" r="1.25"/><circle cx="200.0" cy="266.2" r="1.25"/><circle cx="204.2" cy="281.5" r="1.25"/><circle cx="192.7" cy="287.6" r="1.25"/><circle cx="185.8" cy="281.7" r="1.25"/><circle cx="208.0" cy="272.6" r="1.25"/><circle cx="186.4" cy="280.5" r="1.25"/><circle cx="192.2" cy="291.0" r="1.25"/><circle cx="194.8" cy="263.8" r="1.25"/><circle cx="185.2" cy="274.7" r="1.25"/><circle cx="189.9" cy="273.3" r="1.25"/><circle cx="189.2" cy="280.0" r="1.25"/><circle cx="195.8" cy="262.6" r="1.25"/><circle cx="186.0" cy="272.8" r="1.25"/><circle cx="190.1" cy="276.2" r="1.25"/><circle cx="188.7" cy="290.7" r="1.25"/><circle cx="204.7" cy="271.7" r="1.25"/><circle cx="196.0" cy="291.2" r="1.25"/><circle cx="188.7" cy="287.4" r="1.25"/><circle cx="198.3" cy="286.2" r="1.25"/><circle cx="186.9" cy="291.0" r="1.25"/><circle cx="197.8" cy="260.1" r="1.25"/><circle cx="207.5" cy="274.7" r="1.25"/><circle cx="184.8" cy="281.0" r="1.25"/><circle cx="192.2" cy="261.6" r="1.25"/><circle cx="194.6" cy="261.2" r="1.25"/><circle cx="195.4" cy="268.1" r="1.25"/><circle cx="194.0" cy="260.9" r="1.25"/><circle cx="204.0" cy="294.5" r="1.25"/><circle cx="206.0" cy="295.0" r="1.25"/><circle cx="202.0" cy="296.0" r="1.25"/><circle cx="141.0" cy="312.2" r="1.25"/><circle cx="33.8" cy="289.5" r="1.25"/><circle cx="68.2" cy="282.3" r="1.25"/><circle cx="75.0" cy="285.8" r="1.25"/><circle cx="73.4" cy="294.3" r="1.25"/><circle cx="67.0" cy="307.5" r="1.25"/><circle cx="67.2" cy="309.3" r="1.25"/><circle cx="96.7" cy="298.5" r="1.25"/><circle cx="106.8" cy="280.3" r="1.25"/><circle cx="114.7" cy="281.1" r="1.25"/><circle cx="122.4" cy="283.3" r="1.25"/><circle cx="118.3" cy="287.1" r="1.25"/><circle cx="108.1" cy="305.5" r="1.25"/><circle cx="118.8" cy="301.1" r="1.25"/><circle cx="116.6" cy="317.0" r="1.25"/><circle cx="119.0" cy="300.9" r="1.25"/><circle cx="107.8" cy="305.7" r="1.25"/><circle cx="357.2" cy="265.3" r="1.25"/><circle cx="363.8" cy="265.3" r="1.25"/><circle cx="350.4" cy="304.9" r="1.25"/><circle cx="358.7" cy="303.9" r="1.25"/><circle cx="362.5" cy="301.8" r="1.25"/><circle cx="362.2" cy="305.9" r="1.25"/><circle cx="363.5" cy="308.0" r="1.25"/><circle cx="365.6" cy="310.4" r="1.25"/><circle cx="366.4" cy="306.1" r="1.25"/><circle cx="364.5" cy="307.5" r="1.25"/><circle cx="363.8" cy="265.3" r="1.25"/><circle cx="376.2" cy="264.5" r="1.25"/><circle cx="424.4" cy="270.4" r="1.25"/><circle cx="427.7" cy="272.2" r="1.25"/><circle cx="429.6" cy="277.2" r="1.25"/><circle cx="429.6" cy="278.5" r="1.25"/><circle cx="479.5" cy="269.1" r="1.25"/><circle cx="496.6" cy="260.1" r="1.25"/><circle cx="474.2" cy="266.2" r="1.25"/><circle cx="491.2" cy="260.0" r="1.25"/><circle cx="486.4" cy="268.2" r="1.25"/><circle cx="483.2" cy="268.5" r="1.25"/><circle cx="497.4" cy="262.0" r="1.25"/><circle cx="480.3" cy="269.5" r="1.25"/><circle cx="477.4" cy="269.4" r="1.25"/><circle cx="489.1" cy="259.5" r="1.25"/><circle cx="472.9" cy="266.1" r="1.25"/><circle cx="496.5" cy="263.7" r="1.25"/><circle cx="476.6" cy="263.0" r="1.25"/><circle cx="494.0" cy="259.6" r="1.25"/><circle cx="479.3" cy="269.1" r="1.25"/><circle cx="492.9" cy="260.5" r="1.25"/><circle cx="475.6" cy="264.4" r="1.25"/><circle cx="474.9" cy="269.1" r="1.25"/><circle cx="495.1" cy="266.3" r="1.25"/><circle cx="487.1" cy="268.3" r="1.25"/><circle cx="498.3" cy="264.0" r="1.25"/><circle cx="494.1" cy="260.9" r="1.25"/><circle cx="475.2" cy="263.5" r="1.25"/><circle cx="491.1" cy="258.8" r="1.25"/><circle cx="495.0" cy="261.2" r="1.25"/><circle cx="498.5" cy="264.0" r="1.25"/><circle cx="490.2" cy="268.3" r="1.25"/><circle cx="496.8" cy="264.3" r="1.25"/><circle cx="480.9" cy="260.7" r="1.25"/><circle cx="474.9" cy="265.4" r="1.25"/><circle cx="480.4" cy="261.7" r="1.25"/><circle cx="478.3" cy="262.0" r="1.25"/><circle cx="491.0" cy="267.2" r="1.25"/><circle cx="491.0" cy="258.9" r="1.25"/><circle cx="494.0" cy="259.4" r="1.25"/><circle cx="482.6" cy="269.8" r="1.25"/><circle cx="493.2" cy="258.9" r="1.25"/><circle cx="472.3" cy="266.3" r="1.25"/><circle cx="497.4" cy="260.1" r="1.25"/><circle cx="495.9" cy="263.5" r="1.25"/><circle cx="495.5" cy="264.1" r="1.25"/><circle cx="484.6" cy="260.2" r="1.25"/><circle cx="490.3" cy="259.2" r="1.25"/><circle cx="476.5" cy="264.2" r="1.25"/><circle cx="496.7" cy="261.1" r="1.25"/><circle cx="477.3" cy="262.7" r="1.25"/><circle cx="474.6" cy="266.5" r="1.25"/><circle cx="485.0" cy="260.3" r="1.25"/><circle cx="497.0" cy="263.7" r="1.25"/><circle cx="489.8" cy="259.9" r="1.25"/><circle cx="475.0" cy="265.2" r="1.25"/><circle cx="486.3" cy="269.2" r="1.25"/><circle cx="494.1" cy="266.5" r="1.25"/><circle cx="487.4" cy="259.2" r="1.25"/><circle cx="478.0" cy="263.1" r="1.25"/><circle cx="477.8" cy="263.0" r="1.25"/><circle cx="482.0" cy="269.5" r="1.25"/><circle cx="477.1" cy="269.3" r="1.25"/><circle cx="496.4" cy="259.8" r="1.25"/><circle cx="495.2" cy="264.7" r="1.25"/><circle cx="477.3" cy="269.6" r="1.25"/><circle cx="473.0" cy="265.8" r="1.25"/><circle cx="497.6" cy="262.4" r="1.25"/><circle cx="472.7" cy="266.6" r="1.25"/><circle cx="496.1" cy="260.3" r="1.25"/><circle cx="497.2" cy="261.5" r="1.25"/><circle cx="474.1" cy="267.8" r="1.25"/><circle cx="495.1" cy="265.5" r="1.25"/><circle cx="495.3" cy="260.2" r="1.25"/><circle cx="484.5" cy="268.5" r="1.25"/><circle cx="497.4" cy="261.3" r="1.25"/><circle cx="479.3" cy="269.3" r="1.25"/><circle cx="489.9" cy="259.9" r="1.25"/><circle cx="494.5" cy="265.0" r="1.25"/><circle cx="486.3" cy="259.4" r="1.25"/><circle cx="494.4" cy="259.4" r="1.25"/><circle cx="490.5" cy="266.9" r="1.25"/><circle cx="495.3" cy="265.6" r="1.25"/><circle cx="473.1" cy="267.3" r="1.25"/><circle cx="492.0" cy="266.7" r="1.25"/><circle cx="496.4" cy="261.5" r="1.25"/><circle cx="494.5" cy="262.8" r="1.25"/><circle cx="498.4" cy="261.6" r="1.25"/><circle cx="500.0" cy="263.0" r="1.25"/><circle cx="495.2" cy="261.7" r="1.25"/><circle cx="496.9" cy="261.4" r="1.25"/><circle cx="494.1" cy="263.3" r="1.25"/><circle cx="497.1" cy="262.6" r="1.25"/><circle cx="497.9" cy="264.0" r="1.25"/><circle cx="494.7" cy="261.9" r="1.25"/></g>
<text x="64.4" y="169.9" class="c" textLength="124.5" lengthAdjust="spacingAndGlyphs">(<tspan font-weight="bold">a</tspan>) t-SNE for WST features</text><text x="350.8" y="170.2" class="c" textLength="131.2" lengthAdjust="spacingAndGlyphs">(<tspan font-weight="bold">b</tspan>) UMAP for WST features</text><text x="64.0" y="357.8" class="c" textLength="126.2" lengthAdjust="spacingAndGlyphs">(<tspan font-weight="bold">c</tspan>) t-SNE for CWT features</text><text x="350.2" y="357.8" class="c" textLength="132.3" lengthAdjust="spacingAndGlyphs">(<tspan font-weight="bold">d</tspan>) UMAP for CWT features</text>
</svg>
</body></html>
